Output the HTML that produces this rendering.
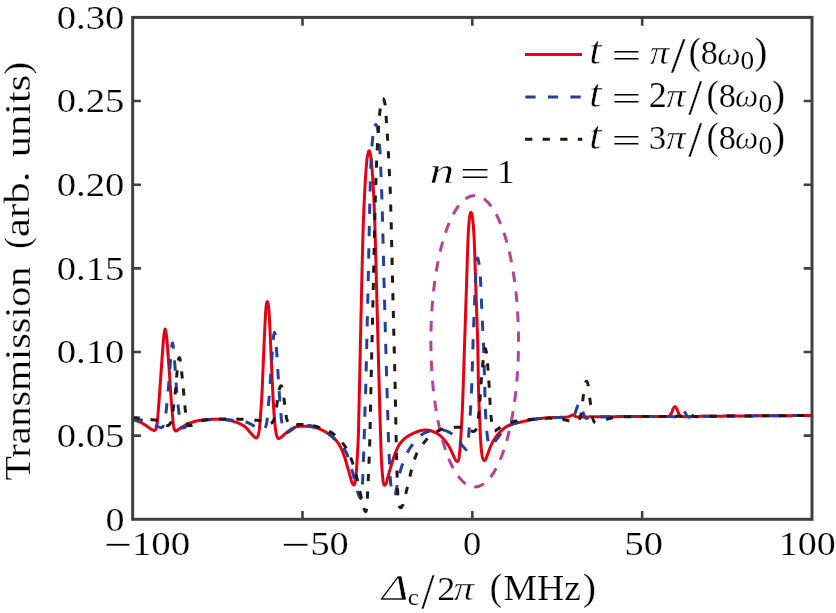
<!DOCTYPE html>
<html><head><meta charset="utf-8"><title>Transmission spectrum</title>
<style>html,body{margin:0;padding:0;background:#fff}svg{display:block}</style></head>
<body>
<svg width="836" height="613" viewBox="0 0 836 613">
<rect width="836" height="613" fill="#fff"/>
<clipPath id="ax"><rect x="132.65" y="17.4" width="679.35" height="501.9"/></clipPath>
<g clip-path="url(#ax)" fill="none" stroke-width="3.0" stroke-linejoin="round">
<path d="M132.60,419.80 L133.27,419.95 L133.94,420.10 L134.61,420.24 L135.29,420.41 L136.00,420.60 L136.72,420.81 L137.46,421.02 L138.21,421.25 L138.99,421.52 L139.78,421.83 L140.60,422.20 L141.29,422.56 L142.03,422.99 L142.79,423.46 L143.57,423.97 L144.35,424.50 L145.14,425.04 L145.90,425.57 L146.64,426.08 L147.35,426.57 L148.00,427.00 L148.75,427.50 L149.45,427.99 L150.12,428.46 L150.77,428.89 L151.39,429.28 L152.00,429.60 L152.67,429.93 L153.33,430.23 L153.95,430.41 L154.50,430.40 L154.94,430.18 L155.34,429.81 L155.69,429.33 L156.00,428.80 L156.26,428.19 L156.46,427.51 L156.61,426.76 L156.75,425.92 L156.90,425.00 L157.01,424.30 L157.11,423.54 L157.21,422.72 L157.31,421.86 L157.40,420.96 L157.49,420.03 L157.57,419.07 L157.66,418.09 L157.74,417.10 L157.83,416.10 L157.91,415.10 L158.00,414.10 L158.07,413.25 L158.15,412.40 L158.22,411.52 L158.29,410.64 L158.36,409.75 L158.43,408.84 L158.50,407.93 L158.57,407.00 L158.64,406.07 L158.71,405.13 L158.78,404.19 L158.85,403.23 L158.92,402.27 L158.99,401.31 L159.06,400.34 L159.13,399.37 L159.20,398.40 L159.27,397.51 L159.33,396.62 L159.40,395.71 L159.46,394.80 L159.53,393.88 L159.60,392.96 L159.66,392.03 L159.73,391.09 L159.80,390.15 L159.86,389.21 L159.93,388.26 L160.00,387.31 L160.06,386.36 L160.13,385.41 L160.20,384.46 L160.27,383.51 L160.33,382.57 L160.40,381.62 L160.47,380.68 L160.53,379.74 L160.60,378.80 L160.67,377.87 L160.73,376.93 L160.80,376.00 L160.87,375.07 L160.93,374.13 L161.00,373.20 L161.06,372.27 L161.13,371.33 L161.19,370.40 L161.26,369.47 L161.33,368.53 L161.39,367.60 L161.46,366.67 L161.53,365.73 L161.59,364.80 L161.66,363.87 L161.73,362.93 L161.79,362.00 L161.86,361.07 L161.93,360.13 L162.00,359.20 L162.07,358.26 L162.14,357.30 L162.21,356.32 L162.28,355.33 L162.35,354.34 L162.42,353.33 L162.50,352.33 L162.57,351.32 L162.64,350.32 L162.71,349.32 L162.78,348.34 L162.86,347.36 L162.93,346.40 L163.00,345.46 L163.07,344.53 L163.15,343.64 L163.22,342.76 L163.29,341.92 L163.36,341.11 L163.43,340.34 L163.50,339.60 L163.60,338.58 L163.69,337.60 L163.79,336.66 L163.88,335.77 L163.97,334.92 L164.07,334.12 L164.17,333.37 L164.28,332.66 L164.40,332.00 L164.58,331.07 L164.77,330.16 L164.96,329.47 L165.15,329.20 L165.34,329.47 L165.53,330.16 L165.72,331.07 L165.90,332.00 L166.02,332.66 L166.14,333.37 L166.26,334.12 L166.37,334.92 L166.47,335.77 L166.58,336.66 L166.69,337.60 L166.79,338.58 L166.90,339.60 L166.97,340.34 L167.05,341.11 L167.12,341.92 L167.19,342.76 L167.27,343.63 L167.34,344.53 L167.41,345.46 L167.49,346.40 L167.56,347.36 L167.63,348.34 L167.70,349.32 L167.77,350.32 L167.84,351.32 L167.91,352.33 L167.98,353.33 L168.05,354.34 L168.12,355.33 L168.19,356.32 L168.26,357.30 L168.33,358.26 L168.40,359.20 L168.47,360.13 L168.54,361.07 L168.61,362.00 L168.67,362.93 L168.74,363.87 L168.81,364.80 L168.88,365.73 L168.95,366.67 L169.01,367.60 L169.08,368.53 L169.15,369.47 L169.21,370.40 L169.28,371.33 L169.34,372.27 L169.41,373.20 L169.48,374.13 L169.54,375.07 L169.61,376.00 L169.67,376.93 L169.74,377.87 L169.80,378.80 L169.86,379.74 L169.93,380.68 L169.99,381.62 L170.05,382.57 L170.11,383.51 L170.17,384.46 L170.23,385.41 L170.30,386.36 L170.36,387.31 L170.42,388.26 L170.48,389.21 L170.54,390.15 L170.60,391.09 L170.66,392.03 L170.72,392.96 L170.78,393.88 L170.84,394.80 L170.91,395.71 L170.97,396.62 L171.03,397.51 L171.10,398.40 L171.17,399.37 L171.25,400.34 L171.32,401.30 L171.40,402.26 L171.47,403.21 L171.55,404.16 L171.62,405.10 L171.70,406.03 L171.78,406.96 L171.85,407.88 L171.93,408.79 L172.01,409.70 L172.09,410.59 L172.16,411.48 L172.24,412.36 L172.32,413.24 L172.40,414.10 L172.49,415.09 L172.57,416.09 L172.66,417.10 L172.74,418.10 L172.83,419.10 L172.91,420.09 L173.00,421.05 L173.09,421.99 L173.18,422.89 L173.27,423.75 L173.38,424.55 L173.48,425.31 L173.60,426.00 L173.77,426.94 L173.93,427.79 L174.11,428.56 L174.32,429.23 L174.60,429.80 L174.87,430.22 L175.17,430.60 L175.51,430.87 L175.90,431.00 L176.43,430.90 L177.03,430.57 L177.70,430.08 L178.42,429.53 L179.20,429.00 L179.78,428.64 L180.41,428.23 L181.06,427.80 L181.75,427.34 L182.46,426.87 L183.20,426.39 L183.96,425.92 L184.73,425.45 L185.51,425.01 L186.30,424.59 L187.10,424.20 L187.86,423.86 L188.64,423.53 L189.43,423.22 L190.24,422.91 L191.07,422.61 L191.90,422.33 L192.75,422.06 L193.60,421.80 L194.46,421.55 L195.32,421.32 L196.18,421.10 L197.04,420.89 L197.90,420.70 L198.80,420.52 L199.73,420.36 L200.69,420.22 L201.68,420.09 L202.67,419.98 L203.65,419.88 L204.63,419.79 L205.58,419.71 L206.49,419.64 L207.36,419.57 L208.18,419.51 L208.93,419.45 L209.60,419.40 L210.37,419.33 L211.00,419.28 L211.58,419.24 L212.21,419.21 L213.00,419.20 L213.63,419.20 L214.33,419.20 L215.10,419.20 L215.92,419.20 L216.80,419.21 L217.70,419.23 L218.64,419.26 L219.60,419.29 L220.57,419.33 L221.54,419.38 L222.50,419.44 L223.45,419.51 L224.37,419.59 L225.26,419.69 L226.10,419.80 L227.03,419.94 L227.95,420.10 L228.86,420.27 L229.77,420.45 L230.67,420.65 L231.55,420.86 L232.43,421.09 L233.29,421.32 L234.14,421.57 L234.98,421.84 L235.80,422.11 L236.60,422.40 L237.45,422.72 L238.30,423.06 L239.13,423.40 L239.94,423.76 L240.74,424.14 L241.52,424.53 L242.28,424.95 L243.01,425.38 L243.72,425.83 L244.40,426.30 L245.05,426.81 L245.67,427.35 L246.26,427.92 L246.82,428.50 L247.37,429.10 L247.90,429.71 L248.43,430.31 L248.96,430.91 L249.50,431.50 L250.09,432.15 L250.68,432.83 L251.27,433.52 L251.85,434.21 L252.42,434.87 L252.97,435.49 L253.50,436.04 L254.00,436.50 L254.60,437.02 L255.16,437.48 L255.70,437.80 L256.20,437.90 L256.62,437.75 L257.01,437.43 L257.38,436.99 L257.70,436.50 L257.96,435.99 L258.17,435.39 L258.34,434.73 L258.50,434.02 L258.65,433.27 L258.80,432.50 L258.94,431.78 L259.06,431.03 L259.18,430.25 L259.30,429.44 L259.40,428.60 L259.51,427.73 L259.61,426.85 L259.70,425.93 L259.80,425.00 L259.88,424.20 L259.95,423.38 L260.02,422.52 L260.09,421.65 L260.15,420.76 L260.21,419.85 L260.27,418.93 L260.33,418.00 L260.39,417.06 L260.45,416.12 L260.51,415.18 L260.57,414.25 L260.63,413.32 L260.70,412.40 L260.76,411.53 L260.83,410.69 L260.89,409.87 L260.96,409.06 L261.03,408.25 L261.09,407.44 L261.16,406.62 L261.23,405.79 L261.29,404.94 L261.36,404.05 L261.43,403.14 L261.50,402.18 L261.56,401.18 L261.63,400.12 L261.70,399.00 L261.74,398.29 L261.78,397.56 L261.82,396.81 L261.86,396.03 L261.91,395.22 L261.95,394.40 L261.99,393.55 L262.03,392.68 L262.07,391.79 L262.12,390.89 L262.16,389.97 L262.20,389.03 L262.24,388.07 L262.29,387.10 L262.33,386.12 L262.37,385.13 L262.41,384.12 L262.46,383.11 L262.50,382.08 L262.54,381.05 L262.59,380.00 L262.63,378.96 L262.67,377.90 L262.71,376.84 L262.76,375.78 L262.80,374.72 L262.84,373.65 L262.89,372.58 L262.93,371.52 L262.97,370.45 L263.01,369.39 L263.06,368.33 L263.10,367.27 L263.14,366.22 L263.18,365.18 L263.23,364.14 L263.27,363.12 L263.31,362.10 L263.35,361.09 L263.39,360.09 L263.44,359.10 L263.48,358.13 L263.52,357.17 L263.56,356.23 L263.60,355.30 L263.64,354.29 L263.69,353.27 L263.73,352.25 L263.78,351.22 L263.82,350.18 L263.87,349.14 L263.92,348.10 L263.96,347.05 L264.01,346.00 L264.05,344.95 L264.10,343.91 L264.14,342.86 L264.19,341.82 L264.23,340.78 L264.28,339.74 L264.32,338.71 L264.37,337.69 L264.41,336.67 L264.46,335.66 L264.50,334.66 L264.54,333.67 L264.59,332.69 L264.63,331.73 L264.67,330.77 L264.72,329.83 L264.76,328.91 L264.80,328.00 L264.84,327.11 L264.89,326.23 L264.93,325.38 L264.97,324.54 L265.01,323.73 L265.05,322.94 L265.09,322.17 L265.12,321.42 L265.16,320.70 L265.20,320.00 L265.26,318.94 L265.31,317.92 L265.36,316.96 L265.41,316.03 L265.46,315.14 L265.51,314.28 L265.56,313.46 L265.61,312.66 L265.66,311.89 L265.72,311.14 L265.77,310.42 L265.84,309.70 L265.90,309.00 L265.99,308.10 L266.07,307.24 L266.16,306.41 L266.25,305.62 L266.35,304.89 L266.47,304.21 L266.60,303.60 L266.77,302.93 L266.96,302.28 L267.16,301.79 L267.35,301.60 L267.54,301.79 L267.74,302.28 L267.93,302.93 L268.10,303.60 L268.23,304.21 L268.35,304.89 L268.45,305.62 L268.54,306.41 L268.63,307.24 L268.71,308.10 L268.80,309.00 L268.86,309.70 L268.93,310.42 L268.98,311.14 L269.04,311.89 L269.09,312.66 L269.14,313.46 L269.19,314.28 L269.24,315.14 L269.29,316.03 L269.34,316.96 L269.39,317.92 L269.44,318.94 L269.50,320.00 L269.54,320.70 L269.58,321.42 L269.61,322.17 L269.65,322.94 L269.69,323.73 L269.73,324.54 L269.77,325.38 L269.81,326.23 L269.85,327.11 L269.90,328.00 L269.94,328.91 L269.98,329.83 L270.02,330.77 L270.06,331.73 L270.11,332.69 L270.15,333.67 L270.19,334.66 L270.24,335.66 L270.28,336.67 L270.33,337.69 L270.37,338.71 L270.42,339.74 L270.46,340.78 L270.51,341.82 L270.55,342.86 L270.60,343.91 L270.64,344.95 L270.69,346.00 L270.73,347.05 L270.78,348.10 L270.82,349.14 L270.87,350.18 L270.92,351.22 L270.96,352.25 L271.01,353.27 L271.05,354.29 L271.10,355.30 L271.14,356.23 L271.18,357.17 L271.23,358.12 L271.27,359.08 L271.31,360.06 L271.36,361.04 L271.40,362.04 L271.44,363.04 L271.49,364.05 L271.53,365.07 L271.58,366.09 L271.62,367.12 L271.67,368.15 L271.71,369.19 L271.76,370.23 L271.80,371.28 L271.85,372.32 L271.89,373.37 L271.94,374.41 L271.98,375.46 L272.03,376.50 L272.07,377.54 L272.12,378.58 L272.16,379.61 L272.21,380.64 L272.25,381.66 L272.30,382.68 L272.35,383.69 L272.39,384.69 L272.44,385.68 L272.48,386.67 L272.53,387.64 L272.57,388.60 L272.62,389.55 L272.66,390.49 L272.71,391.41 L272.75,392.32 L272.80,393.22 L272.84,394.10 L272.88,394.96 L272.93,395.81 L272.97,396.63 L273.01,397.44 L273.06,398.23 L273.10,399.00 L273.16,400.13 L273.23,401.23 L273.29,402.31 L273.35,403.35 L273.42,404.37 L273.48,405.36 L273.54,406.34 L273.60,407.29 L273.66,408.22 L273.72,409.14 L273.79,410.04 L273.85,410.92 L273.91,411.80 L273.97,412.66 L274.04,413.52 L274.10,414.37 L274.17,415.22 L274.23,416.06 L274.30,416.90 L274.38,417.89 L274.46,418.87 L274.53,419.83 L274.61,420.78 L274.69,421.72 L274.76,422.64 L274.84,423.55 L274.92,424.44 L275.01,425.31 L275.10,426.16 L275.19,426.99 L275.29,427.81 L275.40,428.60 L275.52,429.48 L275.65,430.35 L275.78,431.21 L275.92,432.05 L276.06,432.85 L276.21,433.62 L276.36,434.34 L276.53,435.00 L276.70,435.60 L276.95,436.35 L277.20,437.01 L277.48,437.57 L277.80,438.00 L278.02,438.21 L278.25,438.37 L278.51,438.47 L278.80,438.50 L279.30,438.37 L279.88,438.07 L280.51,437.65 L281.17,437.17 L281.80,436.70 L282.33,436.28 L282.85,435.83 L283.38,435.34 L283.91,434.83 L284.46,434.31 L285.02,433.80 L285.60,433.30 L286.19,432.82 L286.80,432.32 L287.42,431.82 L288.06,431.33 L288.71,430.84 L289.37,430.37 L290.03,429.92 L290.70,429.50 L291.36,429.11 L292.02,428.73 L292.70,428.36 L293.38,428.01 L294.07,427.69 L294.77,427.39 L295.48,427.13 L296.20,426.90 L296.95,426.71 L297.72,426.56 L298.50,426.45 L299.29,426.37 L300.08,426.30 L300.89,426.26 L301.69,426.23 L302.50,426.20 L303.34,426.18 L304.19,426.17 L305.05,426.18 L305.91,426.21 L306.77,426.26 L307.64,426.32 L308.52,426.40 L309.40,426.50 L310.25,426.61 L311.12,426.74 L312.00,426.88 L312.88,427.04 L313.76,427.21 L314.64,427.41 L315.51,427.62 L316.36,427.85 L317.20,428.10 L318.00,428.36 L318.79,428.65 L319.56,428.95 L320.33,429.27 L321.09,429.60 L321.85,429.96 L322.60,430.32 L323.35,430.71 L324.10,431.10 L324.80,431.48 L325.50,431.88 L326.20,432.29 L326.90,432.72 L327.60,433.16 L328.28,433.61 L328.96,434.07 L329.62,434.54 L330.27,435.02 L330.90,435.50 L331.56,436.02 L332.20,436.56 L332.83,437.10 L333.45,437.65 L334.06,438.22 L334.65,438.80 L335.22,439.39 L335.77,439.99 L336.30,440.60 L336.80,441.21 L337.27,441.82 L337.72,442.43 L338.16,443.06 L338.58,443.71 L338.99,444.37 L339.40,445.05 L339.80,445.76 L340.20,446.50 L340.56,447.20 L340.92,447.93 L341.28,448.68 L341.62,449.45 L341.97,450.24 L342.30,451.05 L342.64,451.86 L342.96,452.69 L343.28,453.52 L343.59,454.35 L343.90,455.18 L344.20,456.00 L344.50,456.85 L344.79,457.71 L345.08,458.59 L345.35,459.47 L345.62,460.35 L345.89,461.24 L346.15,462.12 L346.40,463.01 L346.65,463.89 L346.90,464.77 L347.15,465.64 L347.40,466.50 L347.65,467.39 L347.90,468.28 L348.14,469.18 L348.38,470.07 L348.62,470.96 L348.85,471.84 L349.09,472.71 L349.31,473.56 L349.54,474.40 L349.77,475.21 L350.00,476.00 L350.26,476.87 L350.51,477.74 L350.76,478.60 L351.01,479.44 L351.26,480.23 L351.51,480.98 L351.76,481.68 L352.00,482.30 L352.30,483.01 L352.58,483.66 L352.88,484.20 L353.20,484.60 L353.42,484.79 L353.66,484.94 L353.89,485.02 L354.10,485.00 L354.37,484.72 L354.61,484.18 L354.82,483.46 L355.01,482.64 L355.20,481.80 L355.34,481.12 L355.46,480.37 L355.58,479.56 L355.69,478.71 L355.78,477.80 L355.88,476.87 L355.96,475.91 L356.05,474.94 L356.13,473.95 L356.22,472.97 L356.30,472.00 L356.37,471.17 L356.44,470.33 L356.51,469.47 L356.57,468.61 L356.63,467.74 L356.69,466.86 L356.75,465.97 L356.81,465.07 L356.86,464.16 L356.92,463.24 L356.97,462.31 L357.03,461.37 L357.09,460.42 L357.14,459.47 L357.20,458.50 L357.25,457.65 L357.30,456.79 L357.36,455.93 L357.41,455.07 L357.46,454.20 L357.51,453.32 L357.57,452.44 L357.62,451.55 L357.67,450.65 L357.72,449.75 L357.78,448.83 L357.83,447.90 L357.88,446.96 L357.93,446.01 L357.98,445.05 L358.02,444.07 L358.07,443.08 L358.11,442.07 L358.16,441.04 L358.20,440.00 L358.23,439.19 L358.26,438.37 L358.29,437.56 L358.32,436.74 L358.35,435.92 L358.37,435.10 L358.40,434.27 L358.42,433.43 L358.45,432.60 L358.47,431.75 L358.49,430.90 L358.51,430.04 L358.53,429.18 L358.56,428.30 L358.58,427.42 L358.60,426.52 L358.62,425.62 L358.64,424.70 L358.66,423.77 L358.68,422.83 L358.70,421.88 L358.72,420.91 L358.74,419.93 L358.76,418.93 L358.78,417.92 L358.80,416.89 L358.83,415.85 L358.85,414.79 L358.87,413.70 L358.90,412.60 L358.92,411.48 L358.95,410.34 L358.97,409.18 L359.00,408.00 L359.02,407.28 L359.03,406.54 L359.05,405.80 L359.07,405.04 L359.09,404.27 L359.10,403.50 L359.12,402.71 L359.14,401.91 L359.16,401.10 L359.18,400.29 L359.20,399.46 L359.21,398.62 L359.23,397.77 L359.25,396.92 L359.27,396.06 L359.29,395.18 L359.31,394.30 L359.33,393.41 L359.35,392.51 L359.37,391.61 L359.39,390.70 L359.41,389.77 L359.43,388.85 L359.45,387.91 L359.47,386.97 L359.49,386.02 L359.51,385.06 L359.53,384.10 L359.55,383.13 L359.57,382.16 L359.60,381.18 L359.62,380.19 L359.64,379.20 L359.66,378.20 L359.68,377.20 L359.70,376.19 L359.72,375.18 L359.75,374.17 L359.77,373.15 L359.79,372.12 L359.81,371.09 L359.83,370.06 L359.86,369.02 L359.88,367.98 L359.90,366.94 L359.92,365.90 L359.94,364.85 L359.97,363.80 L359.99,362.74 L360.01,361.69 L360.03,360.63 L360.06,359.57 L360.08,358.51 L360.10,357.44 L360.13,356.38 L360.15,355.31 L360.17,354.25 L360.19,353.18 L360.22,352.11 L360.24,351.04 L360.26,349.97 L360.29,348.91 L360.31,347.84 L360.33,346.77 L360.35,345.70 L360.38,344.63 L360.40,343.57 L360.42,342.50 L360.45,341.44 L360.47,340.38 L360.49,339.32 L360.51,338.26 L360.54,337.20 L360.56,336.15 L360.58,335.10 L360.61,334.05 L360.63,333.00 L360.65,331.96 L360.67,330.92 L360.70,329.88 L360.72,328.84 L360.74,327.81 L360.77,326.79 L360.79,325.77 L360.81,324.75 L360.83,323.74 L360.86,322.73 L360.88,321.73 L360.90,320.73 L360.92,319.73 L360.95,318.75 L360.97,317.76 L360.99,316.79 L361.01,315.82 L361.03,314.85 L361.06,313.90 L361.08,312.94 L361.10,312.00 L361.12,310.98 L361.15,309.96 L361.17,308.94 L361.19,307.91 L361.22,306.88 L361.24,305.85 L361.26,304.81 L361.29,303.77 L361.31,302.73 L361.34,301.69 L361.36,300.64 L361.38,299.59 L361.41,298.54 L361.43,297.49 L361.45,296.44 L361.48,295.38 L361.50,294.33 L361.53,293.27 L361.55,292.22 L361.57,291.16 L361.60,290.10 L361.62,289.04 L361.64,287.98 L361.67,286.92 L361.69,285.86 L361.72,284.81 L361.74,283.75 L361.76,282.69 L361.79,281.64 L361.81,280.58 L361.83,279.53 L361.86,278.48 L361.88,277.43 L361.91,276.38 L361.93,275.33 L361.95,274.29 L361.98,273.24 L362.00,272.20 L362.03,271.17 L362.05,270.13 L362.07,269.10 L362.10,268.07 L362.12,267.05 L362.15,266.03 L362.17,265.01 L362.19,263.99 L362.22,262.98 L362.24,261.98 L362.27,260.98 L362.29,259.98 L362.31,258.99 L362.34,258.00 L362.36,257.02 L362.38,256.04 L362.41,255.07 L362.43,254.10 L362.46,253.14 L362.48,252.19 L362.50,251.24 L362.53,250.30 L362.55,249.36 L362.58,248.43 L362.60,247.51 L362.62,246.59 L362.65,245.68 L362.67,244.78 L362.70,243.89 L362.72,243.00 L362.74,242.12 L362.77,241.25 L362.79,240.39 L362.81,239.54 L362.84,238.69 L362.86,237.86 L362.89,237.03 L362.91,236.21 L362.93,235.40 L362.96,234.60 L362.98,233.81 L363.01,233.03 L363.03,232.25 L363.05,231.49 L363.08,230.74 L363.10,230.00 L363.14,228.85 L363.17,227.72 L363.21,226.61 L363.25,225.54 L363.28,224.48 L363.32,223.45 L363.35,222.43 L363.39,221.44 L363.42,220.46 L363.46,219.50 L363.50,218.55 L363.53,217.62 L363.57,216.70 L363.60,215.80 L363.64,214.90 L363.67,214.01 L363.71,213.13 L363.74,212.26 L363.78,211.39 L363.82,210.52 L363.85,209.66 L363.89,208.80 L363.93,207.94 L363.97,207.08 L364.01,206.22 L364.05,205.35 L364.09,204.48 L364.13,203.60 L364.17,202.71 L364.21,201.82 L364.26,200.92 L364.30,200.00 L364.35,199.05 L364.39,198.09 L364.44,197.12 L364.49,196.15 L364.54,195.18 L364.58,194.21 L364.63,193.23 L364.68,192.25 L364.73,191.27 L364.78,190.29 L364.83,189.31 L364.89,188.33 L364.94,187.36 L364.99,186.39 L365.04,185.42 L365.10,184.46 L365.15,183.51 L365.21,182.56 L365.26,181.62 L365.32,180.69 L365.37,179.76 L365.43,178.85 L365.49,177.95 L365.54,177.06 L365.60,176.18 L365.66,175.31 L365.72,174.46 L365.78,173.63 L365.84,172.80 L365.90,172.00 L365.98,170.96 L366.05,169.92 L366.13,168.89 L366.20,167.87 L366.27,166.87 L366.35,165.88 L366.42,164.90 L366.50,163.95 L366.58,163.01 L366.66,162.10 L366.75,161.21 L366.84,160.35 L366.94,159.52 L367.04,158.71 L367.15,157.94 L367.27,157.20 L367.40,156.50 L367.61,155.43 L367.84,154.32 L368.09,153.25 L368.34,152.29 L368.60,151.51 L368.85,150.99 L369.10,150.80 L369.35,150.99 L369.60,151.51 L369.86,152.29 L370.11,153.25 L370.36,154.32 L370.59,155.43 L370.80,156.50 L370.93,157.20 L371.05,157.94 L371.16,158.71 L371.26,159.52 L371.36,160.35 L371.45,161.21 L371.54,162.10 L371.62,163.01 L371.70,163.95 L371.78,164.90 L371.85,165.88 L371.93,166.87 L372.00,167.87 L372.07,168.89 L372.15,169.92 L372.22,170.96 L372.30,172.00 L372.36,172.80 L372.42,173.63 L372.48,174.46 L372.54,175.31 L372.60,176.18 L372.66,177.06 L372.72,177.95 L372.77,178.85 L372.83,179.76 L372.89,180.69 L372.94,181.62 L373.00,182.56 L373.05,183.51 L373.11,184.46 L373.16,185.42 L373.22,186.39 L373.27,187.36 L373.32,188.33 L373.37,189.31 L373.42,190.29 L373.47,191.27 L373.52,192.25 L373.57,193.23 L373.62,194.21 L373.67,195.18 L373.72,196.15 L373.76,197.12 L373.81,198.09 L373.86,199.05 L373.90,200.00 L373.94,200.92 L373.98,201.82 L374.02,202.71 L374.06,203.60 L374.10,204.48 L374.14,205.35 L374.18,206.22 L374.21,207.08 L374.25,207.94 L374.28,208.80 L374.31,209.66 L374.35,210.52 L374.38,211.39 L374.41,212.26 L374.44,213.13 L374.47,214.01 L374.51,214.90 L374.54,215.80 L374.57,216.70 L374.60,217.62 L374.63,218.55 L374.66,219.50 L374.69,220.46 L374.73,221.44 L374.76,222.43 L374.79,223.45 L374.82,224.48 L374.86,225.54 L374.89,226.61 L374.93,227.72 L374.96,228.85 L375.00,230.00 L375.02,230.74 L375.05,231.49 L375.07,232.26 L375.09,233.03 L375.12,233.82 L375.14,234.61 L375.17,235.42 L375.19,236.23 L375.22,237.06 L375.24,237.89 L375.26,238.74 L375.29,239.59 L375.31,240.45 L375.34,241.32 L375.36,242.20 L375.39,243.09 L375.41,243.99 L375.44,244.89 L375.47,245.80 L375.49,246.72 L375.52,247.65 L375.54,248.58 L375.57,249.52 L375.59,250.47 L375.62,251.42 L375.65,252.38 L375.67,253.35 L375.70,254.32 L375.72,255.30 L375.75,256.28 L375.78,257.27 L375.80,258.27 L375.83,259.27 L375.86,260.27 L375.88,261.28 L375.91,262.29 L375.94,263.31 L375.96,264.33 L375.99,265.35 L376.02,266.38 L376.04,267.41 L376.07,268.44 L376.10,269.48 L376.12,270.52 L376.15,271.56 L376.18,272.61 L376.21,273.65 L376.23,274.70 L376.26,275.75 L376.29,276.80 L376.31,277.86 L376.34,278.91 L376.37,279.97 L376.40,281.02 L376.42,282.08 L376.45,283.13 L376.48,284.19 L376.50,285.25 L376.53,286.30 L376.56,287.36 L376.59,288.41 L376.61,289.47 L376.64,290.52 L376.67,291.57 L376.69,292.62 L376.72,293.67 L376.75,294.71 L376.77,295.76 L376.80,296.80 L376.83,297.84 L376.86,298.87 L376.88,299.91 L376.91,300.94 L376.94,301.96 L376.96,302.99 L376.99,304.01 L377.02,305.02 L377.04,306.03 L377.07,307.04 L377.10,308.04 L377.12,309.04 L377.15,310.03 L377.17,311.02 L377.20,312.00 L377.23,312.98 L377.25,313.96 L377.28,314.94 L377.30,315.93 L377.33,316.93 L377.36,317.93 L377.38,318.93 L377.41,319.94 L377.44,320.95 L377.46,321.96 L377.49,322.98 L377.52,324.00 L377.55,325.02 L377.57,326.05 L377.60,327.08 L377.63,328.11 L377.65,329.14 L377.68,330.18 L377.71,331.22 L377.74,332.26 L377.76,333.30 L377.79,334.34 L377.82,335.38 L377.84,336.43 L377.87,337.47 L377.90,338.52 L377.93,339.57 L377.95,340.61 L377.98,341.66 L378.01,342.71 L378.04,343.75 L378.06,344.80 L378.09,345.85 L378.12,346.89 L378.15,347.93 L378.17,348.98 L378.20,350.02 L378.23,351.06 L378.26,352.10 L378.28,353.13 L378.31,354.17 L378.34,355.20 L378.36,356.23 L378.39,357.26 L378.42,358.28 L378.44,359.31 L378.47,360.32 L378.50,361.34 L378.52,362.35 L378.55,363.36 L378.58,364.37 L378.60,365.37 L378.63,366.36 L378.66,367.36 L378.68,368.34 L378.71,369.33 L378.73,370.31 L378.76,371.28 L378.79,372.25 L378.81,373.21 L378.84,374.17 L378.86,375.12 L378.89,376.06 L378.91,377.00 L378.94,377.93 L378.96,378.86 L378.99,379.78 L379.01,380.69 L379.03,381.60 L379.06,382.50 L379.08,383.39 L379.11,384.27 L379.13,385.15 L379.15,386.02 L379.18,386.88 L379.20,387.73 L379.22,388.58 L379.25,389.41 L379.27,390.24 L379.29,391.05 L379.31,391.86 L379.34,392.66 L379.36,393.45 L379.38,394.23 L379.40,395.00 L379.43,396.15 L379.46,397.28 L379.49,398.39 L379.52,399.48 L379.55,400.55 L379.58,401.60 L379.61,402.64 L379.64,403.66 L379.67,404.66 L379.70,405.65 L379.72,406.63 L379.75,407.59 L379.78,408.55 L379.80,409.49 L379.83,410.42 L379.85,411.35 L379.88,412.26 L379.91,413.17 L379.93,414.07 L379.96,414.97 L379.98,415.87 L380.01,416.76 L380.04,417.64 L380.06,418.53 L380.09,419.42 L380.12,420.30 L380.14,421.19 L380.17,422.08 L380.20,422.98 L380.22,423.87 L380.25,424.78 L380.28,425.69 L380.31,426.60 L380.34,427.53 L380.37,428.46 L380.40,429.40 L380.43,430.36 L380.46,431.33 L380.49,432.31 L380.52,433.29 L380.55,434.28 L380.58,435.28 L380.62,436.28 L380.65,437.28 L380.68,438.29 L380.71,439.30 L380.74,440.31 L380.77,441.31 L380.80,442.32 L380.83,443.33 L380.86,444.33 L380.90,445.33 L380.93,446.33 L380.96,447.32 L380.99,448.31 L381.03,449.29 L381.06,450.26 L381.10,451.22 L381.13,452.17 L381.17,453.12 L381.20,454.05 L381.24,454.97 L381.28,455.88 L381.31,456.78 L381.35,457.66 L381.39,458.52 L381.43,459.38 L381.47,460.21 L381.51,461.02 L381.56,461.82 L381.60,462.60 L381.66,463.67 L381.72,464.72 L381.79,465.76 L381.85,466.78 L381.92,467.78 L381.98,468.76 L382.05,469.72 L382.12,470.65 L382.19,471.57 L382.26,472.46 L382.33,473.33 L382.40,474.18 L382.48,474.99 L382.56,475.79 L382.63,476.55 L382.72,477.29 L382.80,478.00 L382.91,478.92 L383.01,479.81 L383.10,480.67 L383.21,481.48 L383.32,482.23 L383.45,482.91 L383.61,483.50 L383.80,484.00 L384.02,484.45 L384.27,484.84 L384.54,485.11 L384.80,485.20 L385.17,484.96 L385.55,484.39 L385.94,483.62 L386.30,482.80 L386.54,482.18 L386.77,481.48 L386.99,480.72 L387.20,479.91 L387.41,479.06 L387.62,478.18 L387.83,477.29 L388.06,476.39 L388.30,475.50 L388.52,474.70 L388.76,473.89 L388.99,473.05 L389.23,472.21 L389.48,471.35 L389.73,470.48 L389.98,469.60 L390.24,468.72 L390.50,467.84 L390.77,466.95 L391.03,466.07 L391.30,465.20 L391.56,464.36 L391.82,463.51 L392.08,462.66 L392.34,461.80 L392.60,460.94 L392.87,460.08 L393.14,459.23 L393.42,458.37 L393.70,457.52 L393.99,456.67 L394.28,455.84 L394.59,455.01 L394.90,454.20 L395.23,453.37 L395.55,452.53 L395.88,451.70 L396.22,450.87 L396.56,450.05 L396.91,449.24 L397.27,448.44 L397.64,447.65 L398.03,446.88 L398.43,446.13 L398.86,445.40 L399.30,444.70 L399.81,443.95 L400.34,443.21 L400.89,442.50 L401.46,441.81 L402.04,441.14 L402.64,440.49 L403.26,439.86 L403.89,439.25 L404.54,438.66 L405.20,438.10 L405.87,437.57 L406.56,437.07 L407.27,436.58 L407.99,436.12 L408.73,435.68 L409.48,435.26 L410.23,434.85 L410.99,434.46 L411.75,434.07 L412.50,433.70 L413.24,433.35 L413.98,433.00 L414.73,432.66 L415.49,432.34 L416.25,432.03 L417.01,431.74 L417.77,431.47 L418.52,431.22 L419.27,431.00 L420.00,430.80 L420.81,430.61 L421.60,430.43 L422.40,430.29 L423.19,430.17 L423.97,430.08 L424.75,430.02 L425.53,429.99 L426.30,430.00 L427.05,430.05 L427.80,430.13 L428.54,430.24 L429.28,430.38 L430.02,430.55 L430.75,430.75 L431.48,430.96 L432.20,431.20 L432.95,431.47 L433.71,431.76 L434.46,432.08 L435.20,432.43 L435.94,432.80 L436.67,433.20 L437.39,433.64 L438.10,434.10 L438.79,434.59 L439.48,435.12 L440.15,435.68 L440.83,436.27 L441.49,436.89 L442.14,437.52 L442.78,438.17 L443.40,438.83 L444.00,439.50 L444.54,440.12 L445.07,440.76 L445.59,441.42 L446.09,442.08 L446.59,442.76 L447.07,443.45 L447.55,444.15 L448.01,444.86 L448.46,445.58 L448.90,446.30 L449.34,447.06 L449.77,447.85 L450.19,448.65 L450.59,449.47 L450.98,450.30 L451.37,451.12 L451.74,451.92 L452.10,452.71 L452.46,453.47 L452.80,454.20 L453.18,455.01 L453.55,455.82 L453.90,456.61 L454.24,457.37 L454.57,458.08 L454.89,458.73 L455.20,459.30 L455.51,459.83 L455.80,460.30 L456.09,460.69 L456.40,461.00 L456.64,461.18 L456.90,461.33 L457.15,461.41 L457.40,461.40 L457.72,461.21 L458.04,460.85 L458.34,460.36 L458.60,459.80 L458.80,459.20 L458.97,458.49 L459.10,457.69 L459.22,456.81 L459.31,455.89 L459.41,454.93 L459.50,453.96 L459.60,453.00 L459.68,452.24 L459.76,451.47 L459.84,450.67 L459.91,449.86 L459.98,449.02 L460.05,448.18 L460.11,447.32 L460.18,446.45 L460.24,445.57 L460.31,444.68 L460.37,443.79 L460.44,442.90 L460.50,442.00 L460.56,441.18 L460.62,440.35 L460.68,439.52 L460.73,438.68 L460.79,437.83 L460.85,436.98 L460.91,436.13 L460.96,435.26 L461.02,434.39 L461.07,433.51 L461.13,432.62 L461.18,431.72 L461.24,430.80 L461.29,429.88 L461.35,428.95 L461.40,428.00 L461.45,427.18 L461.49,426.36 L461.54,425.55 L461.58,424.74 L461.63,423.93 L461.67,423.11 L461.72,422.30 L461.76,421.47 L461.81,420.64 L461.85,419.80 L461.90,418.94 L461.94,418.07 L461.98,417.18 L462.03,416.27 L462.07,415.33 L462.12,414.38 L462.16,413.39 L462.21,412.38 L462.26,411.34 L462.30,410.26 L462.35,409.15 L462.40,408.00 L462.43,407.30 L462.46,406.58 L462.49,405.84 L462.52,405.09 L462.55,404.32 L462.58,403.54 L462.61,402.74 L462.64,401.92 L462.67,401.09 L462.70,400.25 L462.73,399.39 L462.77,398.52 L462.80,397.63 L462.83,396.74 L462.86,395.83 L462.90,394.91 L462.93,393.98 L462.96,393.04 L462.99,392.09 L463.03,391.13 L463.06,390.15 L463.09,389.18 L463.13,388.19 L463.16,387.19 L463.20,386.19 L463.23,385.18 L463.26,384.16 L463.30,383.14 L463.33,382.11 L463.37,381.07 L463.40,380.03 L463.43,378.99 L463.47,377.94 L463.50,376.89 L463.54,375.83 L463.57,374.77 L463.61,373.71 L463.64,372.65 L463.67,371.59 L463.71,370.52 L463.74,369.46 L463.78,368.39 L463.81,367.33 L463.85,366.26 L463.88,365.20 L463.91,364.14 L463.95,363.08 L463.98,362.02 L464.02,360.97 L464.05,359.92 L464.08,358.87 L464.12,357.83 L464.15,356.79 L464.18,355.76 L464.22,354.73 L464.25,353.71 L464.28,352.70 L464.31,351.69 L464.35,350.69 L464.38,349.70 L464.41,348.71 L464.44,347.73 L464.48,346.77 L464.51,345.81 L464.54,344.86 L464.57,343.93 L464.60,343.00 L464.63,341.99 L464.67,340.98 L464.70,339.98 L464.73,338.97 L464.77,337.97 L464.80,336.98 L464.83,335.98 L464.87,334.99 L464.90,334.00 L464.93,333.01 L464.97,332.03 L465.00,331.05 L465.03,330.07 L465.06,329.09 L465.09,328.11 L465.13,327.14 L465.16,326.17 L465.19,325.20 L465.22,324.23 L465.26,323.26 L465.29,322.30 L465.32,321.34 L465.35,320.38 L465.38,319.42 L465.41,318.46 L465.45,317.50 L465.48,316.54 L465.51,315.59 L465.54,314.63 L465.57,313.68 L465.60,312.73 L465.63,311.78 L465.66,310.83 L465.70,309.88 L465.73,308.93 L465.76,307.98 L465.79,307.04 L465.82,306.09 L465.85,305.14 L465.88,304.20 L465.91,303.25 L465.94,302.31 L465.98,301.36 L466.01,300.41 L466.04,299.47 L466.07,298.52 L466.10,297.58 L466.13,296.63 L466.16,295.69 L466.19,294.74 L466.22,293.79 L466.26,292.85 L466.29,291.90 L466.32,290.95 L466.35,290.00 L466.38,289.02 L466.41,288.03 L466.45,287.02 L466.48,286.01 L466.51,284.99 L466.55,283.96 L466.58,282.93 L466.61,281.88 L466.65,280.84 L466.68,279.78 L466.71,278.72 L466.75,277.66 L466.78,276.59 L466.81,275.53 L466.85,274.46 L466.88,273.39 L466.91,272.31 L466.95,271.24 L466.98,270.17 L467.01,269.10 L467.05,268.04 L467.08,266.98 L467.11,265.92 L467.15,264.86 L467.18,263.81 L467.21,262.77 L467.25,261.73 L467.28,260.70 L467.31,259.68 L467.34,258.67 L467.38,257.66 L467.41,256.67 L467.44,255.69 L467.47,254.72 L467.50,253.76 L467.54,252.81 L467.57,251.88 L467.60,250.96 L467.63,250.06 L467.66,249.17 L467.69,248.30 L467.72,247.45 L467.75,246.61 L467.78,245.79 L467.81,244.99 L467.84,244.21 L467.86,243.46 L467.89,242.72 L467.92,242.01 L467.95,241.31 L467.97,240.64 L468.00,240.00 L468.05,238.88 L468.09,237.84 L468.13,236.85 L468.17,235.91 L468.21,235.02 L468.25,234.17 L468.29,233.36 L468.33,232.57 L468.37,231.80 L468.41,231.04 L468.46,230.29 L468.50,229.53 L468.55,228.77 L468.60,228.00 L468.66,227.08 L468.72,226.17 L468.79,225.28 L468.85,224.39 L468.92,223.53 L468.99,222.68 L469.06,221.85 L469.13,221.04 L469.21,220.26 L469.30,219.50 L469.40,218.67 L469.49,217.85 L469.59,217.05 L469.70,216.28 L469.81,215.56 L469.95,214.90 L470.10,214.30 L470.30,213.63 L470.53,212.98 L470.77,212.49 L471.00,212.30 L471.23,212.49 L471.47,212.98 L471.70,213.63 L471.90,214.30 L472.05,214.90 L472.19,215.56 L472.30,216.28 L472.41,217.05 L472.50,217.85 L472.60,218.67 L472.70,219.50 L472.79,220.26 L472.88,221.04 L472.96,221.85 L473.05,222.68 L473.13,223.53 L473.21,224.39 L473.28,225.28 L473.36,226.17 L473.43,227.08 L473.50,228.00 L473.56,228.77 L473.61,229.53 L473.67,230.29 L473.72,231.04 L473.77,231.80 L473.81,232.57 L473.86,233.36 L473.91,234.17 L473.95,235.02 L474.00,235.91 L474.05,236.85 L474.10,237.84 L474.15,238.88 L474.20,240.00 L474.23,240.64 L474.26,241.31 L474.29,242.01 L474.32,242.72 L474.35,243.46 L474.38,244.21 L474.41,244.99 L474.44,245.79 L474.47,246.61 L474.50,247.45 L474.53,248.30 L474.57,249.17 L474.60,250.06 L474.63,250.96 L474.66,251.88 L474.69,252.81 L474.73,253.76 L474.76,254.72 L474.79,255.69 L474.83,256.67 L474.86,257.66 L474.89,258.67 L474.92,259.68 L474.96,260.70 L474.99,261.73 L475.02,262.77 L475.06,263.81 L475.09,264.86 L475.12,265.92 L475.16,266.98 L475.19,268.04 L475.23,269.10 L475.26,270.17 L475.29,271.24 L475.33,272.31 L475.36,273.39 L475.40,274.46 L475.43,275.53 L475.46,276.59 L475.50,277.66 L475.53,278.72 L475.56,279.78 L475.60,280.84 L475.63,281.88 L475.67,282.93 L475.70,283.96 L475.73,284.99 L475.77,286.01 L475.80,287.02 L475.83,288.03 L475.87,289.02 L475.90,290.00 L475.93,290.95 L475.97,291.90 L476.00,292.86 L476.03,293.81 L476.07,294.77 L476.10,295.73 L476.13,296.69 L476.17,297.65 L476.20,298.61 L476.24,299.57 L476.27,300.53 L476.31,301.50 L476.34,302.46 L476.38,303.43 L476.41,304.40 L476.45,305.37 L476.48,306.34 L476.52,307.31 L476.55,308.28 L476.59,309.25 L476.62,310.22 L476.66,311.19 L476.69,312.16 L476.73,313.13 L476.76,314.10 L476.80,315.07 L476.83,316.05 L476.87,317.02 L476.90,317.99 L476.94,318.96 L476.97,319.93 L477.01,320.90 L477.04,321.87 L477.07,322.84 L477.11,323.81 L477.14,324.78 L477.17,325.75 L477.21,326.72 L477.24,327.69 L477.27,328.65 L477.30,329.62 L477.33,330.58 L477.37,331.55 L477.40,332.51 L477.43,333.47 L477.46,334.43 L477.48,335.39 L477.51,336.34 L477.54,337.30 L477.57,338.25 L477.60,339.21 L477.62,340.16 L477.65,341.11 L477.67,342.05 L477.70,343.00 L477.73,343.98 L477.75,344.97 L477.77,345.96 L477.80,346.95 L477.82,347.95 L477.84,348.95 L477.86,349.96 L477.88,350.96 L477.90,351.97 L477.92,352.98 L477.94,353.99 L477.96,355.01 L477.97,356.02 L477.99,357.04 L478.01,358.05 L478.02,359.07 L478.04,360.08 L478.05,361.09 L478.07,362.11 L478.08,363.12 L478.10,364.13 L478.11,365.14 L478.13,366.14 L478.14,367.14 L478.16,368.14 L478.17,369.14 L478.19,370.13 L478.20,371.12 L478.21,372.10 L478.23,373.08 L478.24,374.06 L478.26,375.03 L478.27,375.99 L478.29,376.95 L478.30,377.90 L478.32,378.84 L478.33,379.78 L478.35,380.71 L478.37,381.64 L478.38,382.55 L478.40,383.46 L478.42,384.36 L478.43,385.24 L478.45,386.12 L478.47,387.00 L478.49,387.86 L478.51,388.71 L478.53,389.55 L478.55,390.38 L478.58,391.19 L478.60,392.00 L478.63,393.07 L478.66,394.12 L478.70,395.15 L478.73,396.17 L478.77,397.16 L478.80,398.14 L478.84,399.11 L478.87,400.07 L478.91,401.01 L478.95,401.94 L478.98,402.86 L479.02,403.76 L479.06,404.67 L479.10,405.56 L479.13,406.45 L479.17,407.33 L479.21,408.21 L479.25,409.09 L479.29,409.96 L479.33,410.83 L479.37,411.70 L479.41,412.58 L479.45,413.45 L479.48,414.33 L479.52,415.22 L479.56,416.11 L479.60,417.00 L479.64,417.95 L479.68,418.91 L479.72,419.87 L479.76,420.83 L479.80,421.80 L479.83,422.76 L479.87,423.72 L479.91,424.68 L479.95,425.64 L479.99,426.59 L480.02,427.54 L480.06,428.49 L480.10,429.43 L480.14,430.36 L480.18,431.29 L480.22,432.21 L480.27,433.12 L480.31,434.02 L480.35,434.92 L480.40,435.80 L480.45,436.67 L480.50,437.53 L480.55,438.37 L480.60,439.20 L480.66,440.19 L480.73,441.18 L480.79,442.17 L480.85,443.16 L480.92,444.13 L480.99,445.09 L481.05,446.04 L481.12,446.97 L481.20,447.88 L481.27,448.77 L481.35,449.64 L481.43,450.48 L481.52,451.28 L481.61,452.06 L481.70,452.80 L481.80,453.50 L481.94,454.46 L482.08,455.38 L482.22,456.24 L482.37,457.05 L482.55,457.78 L482.75,458.43 L483.00,459.00 L483.31,459.54 L483.67,460.02 L484.04,460.37 L484.40,460.50 L484.76,460.36 L485.12,459.99 L485.47,459.51 L485.80,459.00 L486.11,458.44 L486.37,457.81 L486.62,457.11 L486.89,456.34 L487.20,455.50 L487.45,454.85 L487.71,454.13 L487.99,453.36 L488.28,452.54 L488.58,451.68 L488.90,450.80 L489.22,449.91 L489.55,449.02 L489.88,448.14 L490.22,447.29 L490.56,446.47 L490.90,445.70 L491.26,444.92 L491.62,444.16 L491.99,443.42 L492.36,442.69 L492.73,441.97 L493.12,441.26 L493.52,440.56 L493.93,439.87 L494.36,439.18 L494.80,438.50 L495.27,437.81 L495.75,437.13 L496.25,436.45 L496.76,435.77 L497.28,435.11 L497.82,434.45 L498.36,433.81 L498.90,433.19 L499.45,432.58 L500.00,432.00 L500.56,431.42 L501.12,430.86 L501.69,430.32 L502.26,429.79 L502.84,429.27 L503.43,428.78 L504.04,428.30 L504.66,427.84 L505.30,427.40 L505.97,426.97 L506.65,426.56 L507.34,426.18 L508.05,425.80 L508.78,425.45 L509.51,425.12 L510.26,424.80 L511.03,424.49 L511.80,424.20 L512.55,423.94 L513.31,423.71 L514.06,423.50 L514.83,423.31 L515.61,423.12 L516.41,422.95 L517.25,422.77 L518.12,422.60 L519.03,422.41 L520.00,422.20 L520.74,422.04 L521.51,421.87 L522.31,421.70 L523.15,421.52 L524.01,421.34 L524.89,421.15 L525.80,420.96 L526.73,420.77 L527.67,420.57 L528.62,420.38 L529.58,420.19 L530.55,420.00 L531.51,419.82 L532.48,419.64 L533.45,419.47 L534.41,419.30 L535.36,419.14 L536.29,418.99 L537.22,418.85 L538.12,418.72 L539.00,418.60 L539.93,418.49 L540.85,418.38 L541.78,418.29 L542.71,418.20 L543.64,418.12 L544.56,418.05 L545.48,417.98 L546.40,417.92 L547.31,417.87 L548.21,417.82 L549.11,417.77 L549.99,417.73 L550.86,417.69 L551.72,417.65 L552.56,417.61 L553.39,417.58 L554.21,417.54 L555.00,417.50 L555.93,417.46 L556.85,417.43 L557.77,417.41 L558.67,417.39 L559.56,417.38 L560.43,417.37 L561.27,417.36 L562.09,417.34 L562.87,417.32 L563.62,417.29 L564.33,417.25 L565.00,417.20 L565.79,417.13 L566.53,417.06 L567.21,416.98 L567.85,416.88 L568.44,416.76 L569.00,416.60 L569.56,416.35 L570.06,416.05 L570.53,415.75 L571.00,415.50 L571.40,415.32 L571.80,415.15 L572.19,415.03 L572.60,415.00 L573.06,415.10 L573.53,415.30 L574.00,415.56 L574.50,415.80 L575.06,416.08 L575.63,416.39 L576.25,416.68 L577.00,416.90 L577.58,417.00 L578.21,417.05 L578.88,417.08 L579.59,417.08 L580.35,417.05 L581.17,417.02 L582.04,416.98 L582.96,416.94 L583.95,416.91 L585.00,416.90 L585.63,416.90 L586.29,416.89 L586.98,416.89 L587.71,416.88 L588.46,416.88 L589.24,416.87 L590.05,416.87 L590.88,416.86 L591.74,416.85 L592.62,416.85 L593.52,416.84 L594.44,416.83 L595.38,416.82 L596.33,416.81 L597.30,416.80 L598.29,416.79 L599.29,416.78 L600.30,416.77 L601.32,416.76 L602.35,416.75 L603.39,416.74 L604.44,416.73 L605.49,416.72 L606.54,416.71 L607.60,416.70 L608.66,416.69 L609.71,416.68 L610.77,416.67 L611.82,416.67 L612.87,416.66 L613.92,416.65 L614.96,416.64 L615.99,416.63 L617.01,416.62 L618.02,416.61 L619.02,416.61 L620.00,416.60 L620.93,416.59 L621.88,416.59 L622.85,416.58 L623.84,416.57 L624.84,416.57 L625.86,416.56 L626.89,416.55 L627.93,416.55 L628.99,416.54 L630.05,416.53 L631.12,416.52 L632.19,416.52 L633.27,416.51 L634.35,416.50 L635.43,416.49 L636.52,416.49 L637.60,416.48 L638.68,416.47 L639.75,416.47 L640.82,416.46 L641.88,416.45 L642.94,416.45 L643.98,416.44 L645.01,416.44 L646.03,416.43 L647.04,416.43 L648.03,416.42 L649.00,416.42 L649.95,416.41 L650.88,416.41 L651.80,416.41 L652.69,416.40 L653.55,416.40 L654.39,416.40 L655.20,416.40 L655.98,416.39 L656.74,416.39 L657.46,416.39 L658.15,416.39 L658.80,416.40 L659.42,416.40 L660.00,416.40 L661.05,416.41 L662.01,416.44 L662.89,416.47 L663.70,416.50 L664.45,416.53 L665.14,416.55 L665.79,416.55 L666.41,416.54 L667.00,416.50 L667.73,416.45 L668.38,416.39 L668.96,416.26 L669.50,416.00 L669.97,415.58 L670.40,415.03 L670.78,414.38 L671.14,413.69 L671.50,413.00 L671.82,412.29 L672.12,411.50 L672.40,410.68 L672.67,409.88 L672.97,409.14 L673.30,408.50 L673.70,407.86 L674.13,407.24 L674.57,406.78 L675.00,406.60 L675.43,406.78 L675.87,407.24 L676.30,407.86 L676.70,408.50 L677.03,409.13 L677.33,409.87 L677.61,410.67 L677.89,411.49 L678.18,412.28 L678.50,413.00 L678.86,413.73 L679.22,414.48 L679.60,415.17 L680.02,415.76 L680.50,416.20 L681.01,416.45 L681.55,416.54 L682.19,416.57 L683.00,416.60 L683.52,416.63 L684.12,416.65 L684.78,416.66 L685.52,416.67 L686.30,416.67 L687.15,416.66 L688.03,416.65 L688.96,416.63 L689.92,416.61 L690.92,416.58 L691.93,416.55 L692.96,416.53 L694.00,416.50 L695.05,416.46 L696.09,416.43 L697.13,416.41 L698.15,416.38 L699.16,416.35 L700.14,416.33 L701.09,416.31 L702.00,416.30 L702.91,416.29 L703.80,416.28 L704.68,416.27 L705.56,416.26 L706.43,416.25 L707.29,416.25 L708.15,416.24 L709.02,416.23 L709.88,416.23 L710.74,416.22 L711.62,416.21 L712.49,416.21 L713.38,416.20 L714.28,416.19 L715.19,416.19 L716.12,416.18 L717.06,416.17 L718.02,416.17 L719.00,416.16 L720.00,416.15 L720.83,416.14 L721.67,416.14 L722.52,416.13 L723.39,416.12 L724.26,416.11 L725.15,416.11 L726.05,416.10 L726.96,416.09 L727.88,416.08 L728.81,416.07 L729.75,416.07 L730.69,416.06 L731.64,416.05 L732.60,416.04 L733.56,416.03 L734.52,416.03 L735.49,416.02 L736.46,416.01 L737.44,416.00 L738.42,415.99 L739.39,415.98 L740.37,415.98 L741.35,415.97 L742.32,415.96 L743.30,415.95 L744.27,415.94 L745.23,415.94 L746.20,415.93 L747.16,415.92 L748.11,415.91 L749.06,415.91 L750.00,415.90 L750.94,415.89 L751.87,415.89 L752.81,415.88 L753.74,415.87 L754.68,415.87 L755.61,415.86 L756.54,415.85 L757.48,415.85 L758.41,415.84 L759.34,415.83 L760.27,415.83 L761.21,415.82 L762.14,415.81 L763.07,415.81 L764.01,415.80 L764.94,415.80 L765.87,415.79 L766.81,415.78 L767.74,415.78 L768.68,415.77 L769.62,415.77 L770.55,415.76 L771.49,415.75 L772.43,415.75 L773.37,415.74 L774.32,415.74 L775.26,415.73 L776.20,415.72 L777.15,415.72 L778.10,415.71 L779.05,415.71 L780.00,415.70 L780.93,415.69 L781.86,415.69 L782.79,415.68 L783.72,415.68 L784.65,415.67 L785.59,415.66 L786.52,415.66 L787.46,415.65 L788.40,415.65 L789.34,415.64 L790.28,415.63 L791.22,415.63 L792.16,415.62 L793.10,415.62 L794.05,415.61 L794.99,415.61 L795.94,415.60 L796.88,415.59 L797.83,415.59 L798.77,415.58 L799.72,415.58 L800.66,415.57 L801.61,415.56 L802.56,415.56 L803.50,415.55 L804.45,415.55 L805.39,415.54 L806.34,415.54 L807.28,415.53 L808.23,415.52 L809.17,415.52 L810.12,415.51 L811.06,415.51 L812.00,415.50" stroke="#e60012"/>
<path d="M132.60,419.30 L133.39,419.36 L134.18,419.41 L134.95,419.45 L135.74,419.50 L136.52,419.55 L137.33,419.62 L138.15,419.70 L139.00,419.80 L139.77,419.90 L140.56,420.00 L141.38,420.11 L142.21,420.23 L142.84,420.33 M155.10,425.10 L155.50,425.30 L156.33,425.71 L157.13,426.12 L157.90,426.51 L158.64,426.85 L159.34,427.12 L160.00,427.30 L160.64,427.41 L161.24,427.47 L161.79,427.42 L162.30,427.20 L162.73,426.80 L163.11,426.22 L163.44,425.51 L163.62,425.05 M165.87,413.49 L165.91,413.21 L166.01,412.40 L166.11,411.57 L166.21,410.72 L166.31,409.86 L166.40,408.98 L166.49,408.09 L166.59,407.20 L166.68,406.29 L166.77,405.39 L166.86,404.48 L166.95,403.57 L166.98,403.25 M168.12,391.50 L168.13,391.38 L168.21,390.51 L168.29,389.62 L168.37,388.73 L168.45,387.83 L168.52,386.92 L168.60,386.00 L168.67,385.15 L168.74,384.28 L168.81,383.40 L168.87,382.50 L168.94,381.59 L168.96,381.23 M169.79,369.45 L169.84,368.84 L169.90,368.00 L169.97,367.07 L170.05,366.14 L170.12,365.23 L170.20,364.32 L170.27,363.42 L170.35,362.53 L170.42,361.65 L170.50,360.79 L170.57,359.93 L170.64,359.19 M171.61,347.42 L171.63,347.32 L171.71,346.63 L171.80,346.00 L171.93,345.20 L172.07,344.39 L172.21,343.69 L172.36,343.19 L172.50,343.00 L172.64,343.19 L172.79,343.69 L172.93,344.39 L173.07,345.20 L173.20,346.00 L173.29,346.63 L173.37,347.32 L173.45,348.06 L173.50,348.64 M174.47,360.41 L174.51,360.79 L174.58,361.65 L174.66,362.53 L174.73,363.42 L174.81,364.32 L174.88,365.23 L174.96,366.14 L175.03,367.07 L175.10,368.00 L175.16,368.84 L175.22,369.69 L175.28,370.56 L175.29,370.68 M176.04,382.46 L176.04,382.50 L176.11,383.40 L176.17,384.28 L176.23,385.15 L176.30,386.00 L176.37,386.92 L176.45,387.83 L176.53,388.73 L176.60,389.62 L176.68,390.51 L176.76,391.38 L176.84,392.25 L176.89,392.73 M178.04,404.48 L178.13,405.37 L178.22,406.27 L178.32,407.17 L178.41,408.07 L178.50,408.95 L178.60,409.83 L178.70,410.69 L178.79,411.54 L178.89,412.38 L179.00,413.20 L179.10,414.00 L179.19,414.72 M181.46,426.27 L181.71,426.86 L182.08,427.44 L182.50,427.80 L183.07,427.92 L183.71,427.82 L184.38,427.58 L185.00,427.30 L185.57,426.95 L186.10,426.49 L186.65,425.99 L187.30,425.50 L187.88,425.13 L188.51,424.75 L189.20,424.34 L189.76,424.03 M201.00,420.64 L201.53,420.56 L202.34,420.44 L203.17,420.34 L204.03,420.23 L204.90,420.13 L205.79,420.04 L206.69,419.95 L207.60,419.86 L208.51,419.79 L209.42,419.72 L210.33,419.65 L211.23,419.59 L211.24,419.59 M223.40,419.49 L223.51,419.49 L224.35,419.53 L225.18,419.56 L226.00,419.60 L226.88,419.65 L227.75,419.70 L228.60,419.76 L229.44,419.82 L230.27,419.89 L231.09,419.97 L231.91,420.05 L232.73,420.13 L233.54,420.22 L233.67,420.23 M245.50,421.84 L245.70,421.90 L246.50,422.17 L247.30,422.48 L248.11,422.82 L248.92,423.20 L249.72,423.59 L250.52,424.00 L251.30,424.41 L252.06,424.83 L252.79,425.23 L253.50,425.61 L254.17,425.97 L254.77,426.29 M265.26,427.83 L265.50,427.35 L265.76,426.61 L265.99,425.78 L266.20,424.89 L266.40,423.96 L266.60,423.00 L266.74,422.30 L266.87,421.56 L266.98,420.78 L267.09,419.97 L267.19,419.12 L267.28,418.25 L267.33,417.78 M268.37,406.01 L268.40,405.70 L268.48,404.82 L268.56,403.95 L268.64,403.07 L268.71,402.19 L268.79,401.30 L268.86,400.41 L268.94,399.51 L269.01,398.62 L269.08,397.72 L269.16,396.81 L269.23,395.91 L269.24,395.75 M270.09,383.96 L270.13,383.42 L270.19,382.52 L270.25,381.61 L270.31,380.71 L270.38,379.81 L270.44,378.90 L270.50,378.00 L270.56,377.08 L270.63,376.17 L270.69,375.25 L270.75,374.33 L270.80,373.69 M271.60,361.90 L271.63,361.42 L271.70,360.50 L271.77,359.57 L271.83,358.62 L271.90,357.67 L271.97,356.70 L272.04,355.72 L272.11,354.74 L272.18,353.76 L272.25,352.78 L272.32,351.81 L272.33,351.62 M273.26,339.84 L273.30,339.36 L273.37,338.52 L273.44,337.72 L273.52,336.96 L273.61,336.26 L273.70,335.60 L273.80,335.00 L273.96,334.15 L274.14,333.34 L274.32,332.74 L274.50,332.50 L274.68,332.74 L274.86,333.34 L275.04,334.15 L275.20,335.00 L275.23,335.18 M276.31,346.95 L276.32,347.01 L276.38,347.88 L276.44,348.78 L276.51,349.68 L276.57,350.61 L276.64,351.54 L276.70,352.48 L276.77,353.43 L276.83,354.38 L276.89,355.33 L276.96,356.28 L277.02,357.22 L277.02,357.23 M277.76,369.02 L277.81,369.91 L277.86,370.81 L277.92,371.72 L277.97,372.62 L278.03,373.52 L278.08,374.42 L278.13,375.32 L278.19,376.22 L278.24,377.11 L278.30,378.00 L278.36,378.91 L278.38,379.30 M279.13,391.10 L279.16,391.50 L279.22,392.38 L279.28,393.26 L279.34,394.13 L279.40,395.00 L279.47,395.91 L279.53,396.81 L279.60,397.72 L279.67,398.62 L279.73,399.51 L279.80,400.41 L279.87,401.30 L279.88,401.37 M280.87,413.15 L280.91,413.63 L280.98,414.54 L281.06,415.44 L281.13,416.34 L281.21,417.23 L281.30,418.11 L281.38,418.97 L281.47,419.82 L281.57,420.65 L281.67,421.46 L281.78,422.24 L281.90,423.00 L281.96,423.38 M286.90,432.87 L287.22,432.75 L287.89,432.39 L288.59,431.93 L289.30,431.45 L290.00,431.00 L290.64,430.58 L291.29,430.10 L291.94,429.58 L292.61,429.05 L293.28,428.52 L293.95,428.02 L294.63,427.57 L295.30,427.20 L295.43,427.14 M307.40,425.35 L307.49,425.35 L308.22,425.40 L308.96,425.47 L309.70,425.56 L310.45,425.68 L311.22,425.82 L312.00,426.00 L312.76,426.20 L313.53,426.42 L314.31,426.66 L315.11,426.94 L315.91,427.23 L316.72,427.55 L317.35,427.80 M327.50,433.26 L327.89,433.52 L328.62,434.01 L329.33,434.51 L330.00,435.00 L330.69,435.53 L331.35,436.07 L331.98,436.61 L332.59,437.16 L333.18,437.71 L333.76,438.26 L334.33,438.82 L334.88,439.38 L335.37,439.87 M343.20,448.35 L343.21,448.36 L343.75,448.95 L344.28,449.56 L344.79,450.18 L345.26,450.83 L345.70,451.50 L346.11,452.23 L346.49,452.97 L346.83,453.74 L347.15,454.53 L347.44,455.33 L347.73,456.15 L348.02,456.99 L348.12,457.28 M351.65,469.04 L351.73,469.31 L351.97,470.13 L352.20,470.96 L352.44,471.79 L352.68,472.63 L352.91,473.46 L353.15,474.30 L353.38,475.14 L353.61,475.98 L353.84,476.81 L354.06,477.65 L354.28,478.48 L354.41,478.96 M357.40,490.88 L357.50,491.21 L357.75,492.07 L358.01,492.90 L358.27,493.71 L358.53,494.47 L358.79,495.19 L359.05,495.83 L359.30,496.40 L359.63,497.10 L359.97,497.75 L360.29,498.22 L360.60,498.40 L360.88,498.21 L361.14,497.75 L361.38,497.12 L361.52,496.66 M362.49,484.43 L362.49,484.37 L362.53,483.54 L362.58,482.71 L362.61,481.86 L362.65,481.01 L362.69,480.15 L362.72,479.29 L362.76,478.41 L362.79,477.52 L362.83,476.63 L362.86,475.72 L362.89,474.81 L362.92,474.14 M363.37,461.86 L363.38,461.32 L363.42,460.39 L363.45,459.46 L363.48,458.52 L363.51,457.59 L363.54,456.65 L363.57,455.71 L363.61,454.78 L363.64,453.85 L363.67,452.92 L363.70,452.00 L363.71,451.57 M364.13,439.29 L364.13,439.24 L364.16,438.32 L364.19,437.41 L364.22,436.49 L364.25,435.57 L364.28,434.66 L364.31,433.74 L364.34,432.83 L364.37,431.91 L364.40,431.00 L364.43,430.09 L364.46,429.18 L364.46,428.99 M364.81,416.71 L364.81,416.43 L364.84,415.51 L364.87,414.60 L364.89,413.68 L364.92,412.76 L364.95,411.84 L364.97,410.92 L365.00,410.00 L365.03,409.11 L365.05,408.23 L365.08,407.38 L365.11,406.54 L365.11,406.42 M365.52,394.14 L365.54,393.62 L365.57,392.58 L365.60,391.51 L365.63,390.39 L365.67,389.22 L365.70,388.00 L365.72,387.36 L365.74,386.71 L365.75,386.05 L365.77,385.37 L365.79,384.68 L365.81,383.97 L365.81,383.84 M366.12,371.56 L366.14,371.09 L366.16,370.20 L366.18,369.30 L366.20,368.39 L366.23,367.46 L366.25,366.53 L366.27,365.60 L366.29,364.65 L366.32,363.70 L366.34,362.73 L366.36,361.76 L366.37,361.26 M366.66,348.98 L366.67,348.58 L366.70,347.53 L366.72,346.47 L366.75,345.41 L366.77,344.35 L366.80,343.28 L366.82,342.21 L366.85,341.13 L366.87,340.06 L366.90,338.98 L366.90,338.68 M367.18,326.40 L367.20,325.88 L367.22,324.78 L367.25,323.68 L367.27,322.59 L367.29,321.49 L367.32,320.40 L367.34,319.30 L367.37,318.21 L367.39,317.12 L367.42,316.10 M367.69,303.81 L367.71,303.18 L367.73,302.13 L367.75,301.09 L367.78,300.05 L367.80,299.02 L367.82,297.99 L367.84,296.97 L367.87,295.96 L367.89,294.95 L367.91,293.95 L367.92,293.52 M368.19,281.23 L368.20,280.91 L368.22,279.88 L368.24,278.84 L368.26,277.80 L368.29,276.76 L368.31,275.71 L368.33,274.66 L368.35,273.61 L368.37,272.55 L368.40,271.49 L368.41,270.93 M368.66,258.65 L368.68,257.57 L368.70,256.50 L368.73,255.42 L368.75,254.35 L368.77,253.27 L368.79,252.20 L368.81,251.12 L368.83,250.05 L368.86,248.98 L368.87,248.35 M369.11,236.27 L369.13,235.23 L369.15,234.20 L369.17,233.17 L369.20,232.14 L369.22,231.11 L369.24,230.09 L369.26,229.08 L369.28,228.07 L369.30,227.06 L369.32,226.06 L369.32,225.97 M369.57,213.89 L369.58,213.61 L369.60,212.70 L369.62,211.80 L369.64,210.91 L369.66,210.02 L369.67,209.14 L369.69,208.28 L369.71,207.42 L369.73,206.57 L369.75,205.72 L369.77,204.89 L369.79,204.07 L369.80,203.60 M370.08,191.52 L370.11,190.42 L370.14,189.35 L370.16,188.30 L370.19,187.28 L370.21,186.29 L370.23,185.31 L370.25,184.36 L370.28,183.42 L370.30,182.50 L370.32,181.60 L370.33,181.22 M370.72,168.91 L370.73,168.77 L370.76,167.89 L370.80,167.00 L370.84,166.04 L370.88,165.07 L370.93,164.11 L370.97,163.14 L371.01,162.17 L371.06,161.20 L371.10,160.23 L371.15,159.27 L371.18,158.62 M371.92,146.32 L371.99,145.47 L372.06,144.63 L372.13,143.81 L372.20,143.00 L372.29,142.01 L372.38,141.01 L372.47,140.02 L372.56,139.04 L372.65,138.07 L372.75,137.11 L372.84,136.17 L372.86,136.06 M374.92,126.07 L375.25,125.31 L375.58,124.79 L375.90,124.60 L376.18,124.76 L376.47,125.20 L376.75,125.85 L377.04,126.67 L377.31,127.59 L377.56,128.55 L377.80,129.50 L377.95,130.17 L378.09,130.88 L378.23,131.64 L378.35,132.44 L378.37,132.57 M379.44,143.98 L379.52,144.99 L379.60,146.00 L379.67,146.87 L379.73,147.76 L379.79,148.66 L379.85,149.57 L379.91,150.49 L379.97,151.41 L380.02,152.35 L380.07,153.30 L380.12,154.25 L380.12,154.25 M380.66,166.62 L380.67,166.98 L380.71,167.95 L380.76,168.93 L380.80,169.90 L380.84,170.81 L380.88,171.70 L380.92,172.57 L380.96,173.42 L381.00,174.27 L381.03,175.10 L381.07,175.93 L381.11,176.76 L381.11,176.91 M381.61,189.28 L381.64,190.35 L381.68,191.45 L381.72,192.59 L381.76,193.77 L381.80,195.00 L381.82,195.65 L381.84,196.31 L381.86,196.99 L381.89,197.68 L381.91,198.38 L381.93,199.09 L381.94,199.58 M382.28,211.42 L382.30,211.98 L382.32,212.87 L382.34,213.77 L382.37,214.67 L382.39,215.59 L382.42,216.51 L382.44,217.44 L382.47,218.38 L382.49,219.32 L382.51,220.28 L382.54,221.24 L382.55,221.72 M382.85,233.57 L382.87,234.28 L382.89,235.32 L382.92,236.37 L382.95,237.42 L382.97,238.47 L383.00,239.53 L383.02,240.59 L383.05,241.65 L383.07,242.72 L383.10,243.79 L383.10,243.86 M383.39,255.71 L383.42,256.81 L383.44,257.90 L383.47,258.99 L383.50,260.09 L383.52,261.18 L383.55,262.27 L383.58,263.37 L383.60,264.46 L383.63,265.55 L383.64,266.01 M383.93,277.75 L383.95,278.54 L383.98,279.61 L384.00,280.67 L384.03,281.73 L384.06,282.79 L384.08,283.84 L384.11,284.89 L384.13,285.93 L384.16,286.97 L384.19,288.01 L384.19,288.05 M384.49,299.79 L384.50,300.00 L384.53,301.00 L384.55,302.01 L384.58,303.02 L384.61,304.04 L384.64,305.07 L384.66,306.10 L384.69,307.13 L384.72,308.17 L384.75,309.21 L384.77,310.09 M385.09,321.83 L385.10,322.02 L385.13,323.10 L385.16,324.19 L385.19,325.27 L385.22,326.36 L385.24,327.45 L385.27,328.54 L385.30,329.63 L385.33,330.73 L385.36,331.82 L385.37,332.12 M385.70,343.86 L385.73,344.89 L385.76,345.97 L385.79,347.05 L385.82,348.12 L385.85,349.20 L385.88,350.26 L385.91,351.33 L385.93,352.39 L385.96,353.45 L385.98,354.16 M386.31,365.90 L386.34,366.82 L386.37,367.81 L386.39,368.79 L386.42,369.77 L386.45,370.74 L386.48,371.70 L386.50,372.66 L386.53,373.60 L386.56,374.54 L386.58,375.48 L386.60,376.20 M386.94,387.94 L386.95,388.40 L386.97,389.18 L387.00,389.95 L387.02,390.71 L387.04,391.46 L387.06,392.19 L387.08,392.92 L387.10,393.63 L387.12,394.33 L387.14,395.02 L387.16,395.69 L387.18,396.35 L387.20,397.00 L387.24,398.21 L387.24,398.23 M387.59,409.97 L387.61,410.78 L387.64,411.60 L387.66,412.42 L387.69,413.23 L387.71,414.05 L387.74,414.86 L387.77,415.69 L387.79,416.52 L387.82,417.36 L387.84,418.22 L387.87,419.10 L387.90,420.00 L387.91,420.27 M388.26,432.01 L388.29,432.89 L388.32,433.81 L388.35,434.72 L388.38,435.64 L388.41,436.55 L388.44,437.46 L388.47,438.37 L388.50,439.28 L388.53,440.19 L388.57,441.09 L388.60,442.00 L388.61,442.30 M389.09,454.04 L389.09,454.05 L389.13,454.97 L389.17,455.88 L389.21,456.79 L389.25,457.69 L389.29,458.59 L389.33,459.49 L389.38,460.37 L389.42,461.26 L389.46,462.13 L389.50,463.00 L389.54,463.94 L389.56,464.33 M390.11,476.06 L390.15,476.72 L390.21,477.57 L390.27,478.39 L390.33,479.20 L390.40,480.00 L390.49,480.98 L390.57,481.94 L390.66,482.89 L390.76,483.83 L390.85,484.74 L390.95,485.64 L391.03,486.32 M394.85,494.91 L395.09,494.52 L395.34,493.90 L395.55,493.16 L395.74,492.32 L395.92,491.42 L396.10,490.46 L396.29,489.48 L396.50,488.50 L396.67,487.75 L396.84,486.94 L397.02,486.09 L397.20,485.21 L397.25,484.93 M399.65,473.44 L399.74,473.07 L399.98,472.17 L400.23,471.30 L400.47,470.46 L400.72,469.63 L400.97,468.81 L401.23,467.99 L401.50,467.17 L401.79,466.33 L402.09,465.48 L402.40,464.60 L402.70,463.79 L402.76,463.62 M407.30,452.80 L407.71,452.02 L408.12,451.26 L408.53,450.54 L408.94,449.83 L409.36,449.14 L409.78,448.45 L410.22,447.78 L410.68,447.10 L411.16,446.41 L411.67,445.71 L412.20,445.00 L412.69,444.35 L412.85,444.14 M420.70,435.44 L421.00,435.20 L421.76,434.65 L422.52,434.15 L423.30,433.69 L424.08,433.26 L424.86,432.87 L425.65,432.51 L426.44,432.18 L427.23,431.87 L428.02,431.58 L428.80,431.30 L429.60,431.04 L429.90,430.95 M443.00,430.01 L443.56,430.14 L444.38,430.36 L445.22,430.61 L446.06,430.89 L446.91,431.20 L447.76,431.55 L448.60,431.93 L449.43,432.35 L450.23,432.81 L451.00,433.30 L451.68,433.79 L452.27,434.28 M459.60,442.50 L460.23,443.21 L460.84,443.91 L461.42,444.59 L461.97,445.24 L462.51,445.87 L463.02,446.45 L463.52,447.00 L464.00,447.50 L464.51,448.05 L465.01,448.61 L465.48,449.09 L465.91,449.42 L466.30,449.50 L466.70,449.23 L466.72,449.19 M468.48,437.64 L468.53,436.94 L468.60,436.00 L468.67,435.19 L468.73,434.36 L468.80,433.52 L468.87,432.66 L468.94,431.80 L469.00,430.92 L469.07,430.04 L469.14,429.15 L469.20,428.25 L469.27,427.37 M470.12,415.61 L470.17,414.82 L470.23,413.96 L470.30,413.10 L470.36,412.23 L470.42,411.35 L470.48,410.47 L470.54,409.58 L470.60,408.68 L470.66,407.77 L470.72,406.85 L470.78,405.91 L470.81,405.34 M471.40,393.57 L471.41,393.29 L471.45,392.37 L471.49,391.45 L471.53,390.51 L471.56,389.57 L471.60,388.63 L471.64,387.67 L471.67,386.72 L471.71,385.75 L471.75,384.79 L471.78,383.82 L471.80,383.27 M472.22,371.50 L472.23,371.10 L472.26,370.19 L472.29,369.27 L472.32,368.35 L472.35,367.43 L472.38,366.49 L472.41,365.56 L472.44,364.62 L472.46,363.67 L472.49,362.72 L472.52,361.77 L472.54,361.20 M472.86,349.42 L472.87,349.21 L472.89,348.24 L472.92,347.28 L472.95,346.31 L472.97,345.35 L473.00,344.39 L473.03,343.43 L473.06,342.48 L473.09,341.53 L473.12,340.58 L473.15,339.64 L473.16,339.12 M473.59,327.34 L473.59,327.24 L473.63,326.28 L473.67,325.32 L473.70,324.36 L473.74,323.40 L473.78,322.44 L473.82,321.49 L473.86,320.54 L473.90,319.59 L473.94,318.65 L473.98,317.70 L474.01,317.05 M474.50,305.28 L474.53,304.79 L474.56,303.89 L474.60,303.00 L474.64,302.02 L474.68,301.04 L474.72,300.05 L474.76,299.07 L474.80,298.08 L474.84,297.09 L474.88,296.10 L474.91,295.11 L474.92,294.98 M475.39,283.21 L475.41,282.81 L475.45,281.93 L475.49,281.07 L475.53,280.22 L475.57,279.39 L475.62,278.58 L475.66,277.78 L475.70,277.00 L475.76,275.99 L475.81,275.00 L475.86,274.03 L475.92,273.08 L475.92,272.92 M476.92,261.18 L476.94,261.06 L477.06,260.11 L477.19,259.28 L477.32,258.61 L477.46,258.17 L477.60,258.00 L477.79,258.23 L478.00,258.83 L478.21,259.68 L478.41,260.61 L478.60,261.50 L478.75,262.20 L478.88,262.93 L479.02,263.70 L479.14,264.50 L479.19,264.79 M480.29,276.52 L480.33,277.16 L480.39,278.09 L480.44,279.04 L480.50,280.00 L480.55,280.80 L480.59,281.62 L480.64,282.46 L480.68,283.31 L480.72,284.18 L480.77,285.06 L480.81,285.95 L480.84,286.81 M481.34,298.58 L481.36,299.07 L481.40,300.00 L481.44,300.90 L481.48,301.79 L481.52,302.69 L481.56,303.58 L481.60,304.48 L481.64,305.38 L481.68,306.28 L481.73,307.19 L481.77,308.09 L481.80,308.87 M482.34,320.65 L482.36,321.05 L482.40,322.00 L482.44,322.89 L482.48,323.78 L482.52,324.67 L482.57,325.56 L482.61,326.45 L482.65,327.35 L482.70,328.24 L482.74,329.14 L482.79,330.04 L482.83,330.94 M483.38,342.71 L483.40,343.05 L483.44,344.03 L483.48,345.01 L483.52,346.00 L483.56,346.99 L483.60,348.00 L483.63,348.87 L483.66,349.75 L483.70,350.65 L483.73,351.55 L483.76,352.47 L483.78,353.00 M484.14,364.78 L484.14,364.99 L484.17,365.97 L484.20,366.96 L484.22,367.95 L484.25,368.94 L484.28,369.93 L484.31,370.91 L484.33,371.89 L484.36,372.87 L484.39,373.85 L484.41,374.82 L484.42,375.08 M484.75,386.86 L484.76,387.07 L484.79,388.10 L484.82,389.13 L484.84,390.16 L484.87,391.19 L484.90,392.22 L484.92,393.24 L484.95,394.26 L484.98,395.28 L485.00,396.28 L485.02,397.16 M485.38,408.94 L485.40,409.30 L485.43,410.12 L485.46,410.92 L485.50,411.70 L485.55,412.73 L485.60,413.71 L485.65,414.66 L485.71,415.58 L485.76,416.47 L485.82,417.34 L485.88,418.19 L485.94,419.02 L485.95,419.22 M486.80,430.98 L486.86,431.75 L486.94,432.58 L487.02,433.40 L487.11,434.21 L487.20,435.00 L487.31,435.90 L487.42,436.82 L487.52,437.73 L487.64,438.64 L487.76,439.53 L487.89,440.39 L488.04,441.20 M494.79,441.82 L494.80,441.80 L495.25,441.21 L495.73,440.57 L496.25,439.88 L496.79,439.16 L497.35,438.40 L497.92,437.64 L498.49,436.87 L499.07,436.11 L499.63,435.37 L500.18,434.67 L500.70,434.00 L501.00,433.61 M509.50,425.63 L510.24,425.24 L511.01,424.86 L511.80,424.50 L512.55,424.19 L513.30,423.91 L514.05,423.67 L514.81,423.44 L515.59,423.23 L516.40,423.03 L517.24,422.83 L518.11,422.63 L519.03,422.42 L519.23,422.38 M531.70,419.73 L532.29,419.62 L533.26,419.45 L534.23,419.29 L535.19,419.13 L536.16,418.98 L537.11,418.85 L538.06,418.72 L539.00,418.60 L539.90,418.50 L540.81,418.40 L541.74,418.32 L541.90,418.30 M553.80,417.69 L554.14,417.68 L555.04,417.65 L555.92,417.63 L556.79,417.60 L557.63,417.58 L558.45,417.55 L559.24,417.53 L560.00,417.50 L560.98,417.47 L561.94,417.46 L562.89,417.45 L563.81,417.45 L564.10,417.46 M574.57,414.53 L574.70,414.21 L575.00,413.50 L575.27,412.85 L575.53,412.12 L575.78,411.34 L576.03,410.53 L576.27,409.73 L576.51,408.93 L576.76,408.18 L577.00,407.50 L577.30,406.70 L577.59,405.92 L577.88,405.18 L578.04,404.84 M582.79,411.47 L582.97,412.11 L583.21,412.88 L583.45,413.62 L583.71,414.34 L584.00,415.00 L584.34,415.76 L584.69,416.53 L585.07,417.23 L585.50,417.81 L586.00,418.20 L586.51,418.35 L587.07,418.35 L587.67,418.25 L588.32,418.11 L588.68,418.05 M600.30,416.73 L600.90,416.71 L601.77,416.69 L602.66,416.68 L603.57,416.67 L604.50,416.66 L605.45,416.65 L606.42,416.64 L607.41,416.64 L608.41,416.64 L609.42,416.63 L610.45,416.63 L610.60,416.63 M622.70,416.58 L623.44,416.57 L624.36,416.57 L625.30,416.56 L626.26,416.55 L627.24,416.55 L628.24,416.54 L629.25,416.54 L630.28,416.53 L631.32,416.53 L632.37,416.52 L633.00,416.52 M645.10,416.49 L645.42,416.49 L646.51,416.49 L647.59,416.48 L648.66,416.48 L649.72,416.48 L650.77,416.48 L651.81,416.48 L652.84,416.48 L653.85,416.48 L654.84,416.48 L655.40,416.48 M667.00,416.50 L668.10,416.51 L669.13,416.53 L670.10,416.56 L671.01,416.59 L671.86,416.62 L672.65,416.65 L673.40,416.67 L674.11,416.68 L674.77,416.67 L675.40,416.65 L676.00,416.60 L676.84,416.53 L677.29,416.47 M684.43,411.20 L684.62,411.57 L684.94,412.22 L685.26,412.88 L685.60,413.50 L685.95,414.11 L686.30,414.74 L686.68,415.34 L687.07,415.88 L687.50,416.30 L687.96,416.59 L688.46,416.80 L688.97,416.93 L689.50,417.00 L690.06,416.98 L690.62,416.87 L691.25,416.72 L691.63,416.66 M703.20,416.28 L703.57,416.27 L704.37,416.26 L705.19,416.25 L706.02,416.24 L706.87,416.23 L707.73,416.23 L708.60,416.22 L709.49,416.21 L710.39,416.21 L711.30,416.20 L712.22,416.20 L713.15,416.19 L713.50,416.19 M725.60,416.10 L726.05,416.10 L726.96,416.09 L727.88,416.08 L728.81,416.07 L729.75,416.07 L730.69,416.06 L731.64,416.05 L732.60,416.04 L733.56,416.03 L734.52,416.03 L735.49,416.02 L735.90,416.01 M748.10,415.91 L748.11,415.91 L749.06,415.91 L750.00,415.90 L750.94,415.89 L751.87,415.89 L752.81,415.88 L753.74,415.87 L754.68,415.87 L755.61,415.86 L756.54,415.85 L757.48,415.85 L758.40,415.84 M770.30,415.76 L770.55,415.76 L771.49,415.75 L772.43,415.75 L773.37,415.74 L774.32,415.74 L775.26,415.73 L776.20,415.72 L777.15,415.72 L778.10,415.71 L779.05,415.71 L780.00,415.70 L780.60,415.70 M792.80,415.62 L793.10,415.62 L794.05,415.61 L794.99,415.61 L795.94,415.60 L796.88,415.59 L797.83,415.59 L798.77,415.58 L799.72,415.58 L800.66,415.57 L801.61,415.56 L802.56,415.56 L803.10,415.56" stroke="#23409f"/>
<path d="M474.7,195.60000000000002 A43.8,145.7 0 1 1 474.7,487.0 A43.8,145.7 0 1 1 474.7,195.60000000000002" stroke="#b7409b" stroke-width="3" stroke-dasharray="10.5 9.47" stroke-dashoffset="10.0"/>
<path d="M132.60,417.80 L133.45,417.82 L134.28,417.83 L135.11,417.84 L135.94,417.84 L136.79,417.86 L137.65,417.89 L138.56,417.93 L139.50,418.00 L139.79,418.03 M150.50,419.53 L151.00,419.60 L151.92,419.72 L152.80,419.82 L153.65,419.91 L154.47,419.99 L155.27,420.10 L156.06,420.22 L156.83,420.39 L157.60,420.60 L157.61,420.60 M166.25,425.36 L166.64,425.45 L167.29,425.52 L167.92,425.47 L168.50,425.30 L168.96,425.02 L169.39,424.64 L169.79,424.16 L170.16,423.61 L170.50,423.00 L170.76,422.41 L171.00,421.75 L171.13,421.30 M172.89,411.55 L172.95,411.12 L173.06,410.26 L173.17,409.40 L173.27,408.54 L173.38,407.69 L173.49,406.84 L173.60,406.00 L173.71,405.17 L173.82,404.40 M175.06,394.56 L175.09,394.34 L175.17,393.51 L175.26,392.67 L175.35,391.83 L175.43,390.99 L175.52,390.14 L175.60,389.29 L175.68,388.44 L175.76,387.58 L175.78,387.40 M176.62,377.51 L176.64,377.23 L176.71,376.36 L176.78,375.51 L176.85,374.66 L176.93,373.82 L177.00,373.00 L177.08,372.12 L177.16,371.23 L177.24,370.34 M178.34,360.48 L178.43,359.94 L178.56,359.33 L178.70,358.80 L178.84,358.39 L178.99,358.00 L179.15,357.71 L179.30,357.60 L179.45,357.71 L179.61,358.00 L179.76,358.39 L179.90,358.80 L180.04,359.33 L180.17,359.95 L180.28,360.64 L180.38,361.39 L180.40,361.49 M181.58,371.34 L181.60,371.50 L181.69,372.30 L181.77,373.11 L181.86,373.94 L181.94,374.77 L182.03,375.62 L182.11,376.47 L182.20,377.32 L182.28,378.19 L182.31,378.50 M183.27,388.38 L183.30,388.69 L183.38,389.58 L183.47,390.47 L183.55,391.36 L183.64,392.24 L183.72,393.12 L183.80,394.00 L183.88,394.86 L183.94,395.55 M184.84,405.42 L184.89,405.86 L184.97,406.71 L185.06,407.57 L185.14,408.42 L185.23,409.28 L185.31,410.12 L185.40,410.96 L185.50,411.79 L185.59,412.59 M187.16,422.37 L187.20,422.50 L187.49,423.26 L187.81,423.99 L188.15,424.63 L188.55,425.15 L189.00,425.50 L189.54,425.66 L190.15,425.63 L190.80,425.50 L191.50,425.30 L192.09,425.09 L192.37,424.96 M201.40,420.93 L201.71,420.83 L202.53,420.59 L203.36,420.37 L204.19,420.17 L205.00,420.00 L205.78,419.86 L206.56,419.74 L207.33,419.65 L208.09,419.58 L208.45,419.55 M218.90,419.09 L219.72,419.07 L220.61,419.05 L221.51,419.04 L222.42,419.03 L223.32,419.02 L224.22,419.01 L225.11,419.00 L226.00,419.00 L226.10,419.00 M236.30,419.07 L236.51,419.08 L237.38,419.10 L238.26,419.13 L239.13,419.16 L240.00,419.20 L240.92,419.24 L241.85,419.30 L242.79,419.36 L243.49,419.41 M254.30,420.24 L254.43,420.25 L255.31,420.28 L256.15,420.29 L256.96,420.30 L257.74,420.33 L258.50,420.38 L259.25,420.47 L260.00,420.60 L260.77,420.80 L261.42,421.01 M270.90,423.43 L271.28,423.19 L271.74,422.82 L272.19,422.37 L272.61,421.86 L273.00,421.30 L273.35,420.70 L273.67,420.03 L273.97,419.30 L274.25,418.52 L274.51,417.71 L274.59,417.45 M276.44,407.42 L276.50,407.00 L276.63,406.18 L276.75,405.36 L276.88,404.55 L277.00,403.74 L277.11,402.94 L277.23,402.14 L277.35,401.35 L277.46,400.56 L277.50,400.30 M279.17,390.23 L279.35,389.42 L279.55,388.64 L279.77,387.92 L280.00,387.30 L280.24,386.75 L280.49,386.24 L280.75,385.85 L281.00,385.70 L281.26,385.85 L281.51,386.23 L281.77,386.74 L282.00,387.30 L282.09,387.57 M283.86,397.62 L283.87,397.74 L283.98,398.59 L284.08,399.44 L284.19,400.29 L284.29,401.15 L284.40,402.00 L284.51,402.85 L284.61,403.72 L284.71,404.60 L284.73,404.77 M286.06,414.89 L286.11,415.23 L286.24,416.14 L286.39,417.03 L286.55,417.90 L286.72,418.74 L286.92,419.54 L287.14,420.30 L287.40,421.00 L287.76,421.83 L287.77,421.85 M296.20,424.70 L296.20,424.70 L296.96,424.64 L297.78,424.60 L298.64,424.58 L299.54,424.56 L300.44,424.56 L301.33,424.56 L302.19,424.58 L303.00,424.60 L303.40,424.62 M313.30,425.70 L313.30,425.70 L314.03,425.85 L314.76,426.02 L315.51,426.20 L316.27,426.40 L317.04,426.61 L317.82,426.84 L318.60,427.08 L319.40,427.33 L320.20,427.60 L320.24,427.61 M329.00,431.20 L329.78,431.64 L330.55,432.09 L331.31,432.56 L332.06,433.05 L332.79,433.55 L333.51,434.07 L334.23,434.60 L334.93,435.15 L334.98,435.20 M342.20,442.58 L342.70,443.20 L343.26,443.92 L343.79,444.63 L344.29,445.32 L344.77,446.02 L345.23,446.73 L345.69,447.45 L346.14,448.21 L346.30,448.48 M350.67,457.67 L350.93,458.30 L351.24,459.10 L351.55,459.89 L351.85,460.68 L352.14,461.47 L352.42,462.26 L352.69,463.06 L352.97,463.86 L353.15,464.43 M355.93,474.22 L356.00,474.50 L356.23,475.35 L356.45,476.21 L356.68,477.06 L356.90,477.92 L357.12,478.78 L357.34,479.65 L357.56,480.51 L357.73,481.19 M359.91,491.13 L359.99,491.51 L360.16,492.34 L360.33,493.17 L360.50,494.00 L360.68,494.88 L360.86,495.78 L361.04,496.68 L361.22,497.58 L361.34,498.18 M363.77,508.06 L363.93,508.54 L364.20,509.20 L364.55,510.00 L364.91,510.79 L365.27,511.38 L365.60,511.60 L365.89,511.35 L366.15,510.73 L366.39,509.90 L366.60,509.00 L366.66,508.69 M367.33,498.54 L367.35,498.19 L367.39,497.37 L367.44,496.53 L367.49,495.68 L367.53,494.82 L367.57,493.94 L367.62,493.06 L367.66,492.18 L367.70,491.35 M368.18,481.18 L368.21,480.63 L368.25,479.74 L368.29,478.86 L368.34,477.98 L368.38,477.09 L368.42,476.20 L368.46,475.32 L368.50,474.43 L368.52,473.99 M368.96,463.82 L368.99,462.94 L369.03,462.06 L369.07,461.18 L369.10,460.29 L369.13,459.41 L369.17,458.53 L369.20,457.65 L369.23,456.76 L369.24,456.63 M369.60,446.45 L369.60,446.33 L369.63,445.45 L369.66,444.57 L369.69,443.68 L369.72,442.78 L369.74,441.86 L369.77,440.94 L369.80,440.00 L369.82,439.26 M370.09,429.08 L370.10,428.48 L370.13,427.56 L370.15,426.63 L370.17,425.69 L370.19,424.75 L370.21,423.81 L370.24,422.86 L370.26,421.91 L370.26,421.88 M370.47,411.71 L370.47,411.64 L370.49,410.81 L370.50,409.96 L370.52,409.11 L370.54,408.25 L370.55,407.37 L370.57,406.47 L370.59,405.56 L370.60,404.63 L370.61,404.51 M370.81,394.33 L370.81,394.33 L370.83,393.65 L370.84,392.95 L370.86,392.24 L370.88,391.52 L370.89,390.79 L370.91,390.05 L370.93,389.30 L370.94,388.53 L370.96,387.75 L370.97,387.13 M371.20,376.96 L371.21,376.75 L371.23,375.84 L371.25,374.92 L371.27,373.99 L371.29,373.06 L371.32,372.12 L371.34,371.17 L371.36,370.21 L371.37,369.76 M371.61,359.58 L371.61,359.28 L371.64,358.25 L371.66,357.22 L371.69,356.19 L371.71,355.15 L371.73,354.10 L371.76,353.05 L371.77,352.38 M372.01,342.21 L372.03,341.33 L372.06,340.25 L372.08,339.17 L372.11,338.09 L372.14,337.00 L372.16,335.92 L372.18,335.01 M372.42,324.83 L372.44,324.01 L372.47,322.93 L372.49,321.85 L372.52,320.78 L372.54,319.71 L372.57,318.64 L372.59,317.64 M372.83,307.46 L372.84,307.08 L372.86,306.05 L372.88,305.03 L372.91,304.01 L372.93,303.00 L372.95,302.00 L372.98,300.99 L372.99,300.26 M373.23,290.09 L373.23,289.94 L373.25,288.90 L373.28,287.85 L373.30,286.80 L373.32,285.74 L373.35,284.68 L373.37,283.61 L373.39,282.89 M373.61,272.71 L373.64,271.61 L373.66,270.50 L373.69,269.39 L373.71,268.28 L373.74,267.17 L373.76,266.05 L373.77,265.51 M374.00,255.17 L374.01,254.93 L374.03,253.82 L374.05,252.71 L374.08,251.61 L374.10,250.51 L374.13,249.41 L374.15,248.32 L374.16,247.98 M374.39,237.64 L374.39,237.57 L374.41,236.52 L374.44,235.48 L374.46,234.44 L374.48,233.41 L374.51,232.39 L374.53,231.37 L374.55,230.44 M374.79,220.10 L374.80,219.77 L374.82,218.86 L374.84,217.96 L374.86,217.07 L374.88,216.19 L374.91,215.32 L374.93,214.47 L374.95,213.62 L374.96,212.90 M375.23,202.57 L375.23,202.44 L375.25,201.81 L375.27,201.19 L375.28,200.59 L375.30,200.00 L375.34,198.73 L375.37,197.54 L375.41,196.42 L375.44,195.37 M375.81,185.04 L375.84,184.19 L375.87,183.31 L375.90,182.40 L375.93,181.46 L375.96,180.52 L375.99,179.58 L376.02,178.63 L376.05,177.84 M376.38,167.69 L376.39,167.30 L376.43,166.37 L376.46,165.43 L376.50,164.50 L376.54,163.59 L376.57,162.69 L376.61,161.78 L376.65,160.88 L376.67,160.49 M377.14,150.35 L377.16,150.12 L377.20,149.21 L377.25,148.31 L377.30,147.40 L377.35,146.47 L377.40,145.53 L377.45,144.59 L377.51,143.64 L377.54,143.16 M378.16,133.02 L378.21,132.27 L378.27,131.34 L378.34,130.42 L378.40,129.50 L378.47,128.58 L378.53,127.66 L378.59,126.74 L378.66,125.84 M379.46,115.71 L379.53,115.11 L379.61,114.29 L379.70,113.50 L379.81,112.57 L379.92,111.64 L380.04,110.72 L380.16,109.81 L380.28,108.91 L380.33,108.56 M382.98,98.88 L383.20,98.80 L383.44,98.94 L383.67,99.27 L383.89,99.71 L384.10,100.20 L384.30,100.75 L384.47,101.38 L384.64,102.08 L384.79,102.86 L384.93,103.69 L385.07,104.57 L385.18,105.34 M386.05,115.83 L386.11,116.75 L386.17,117.71 L386.23,118.66 L386.30,119.60 L386.36,120.45 L386.42,121.31 L386.48,122.19 L386.54,123.02 M387.24,133.53 L387.27,134.00 L387.33,134.91 L387.39,135.81 L387.44,136.71 L387.50,137.60 L387.56,138.51 L387.61,139.41 L387.67,140.31 L387.69,140.72 M388.31,151.24 L388.35,151.89 L388.40,152.79 L388.45,153.69 L388.50,154.60 L388.55,155.49 L388.60,156.38 L388.64,157.27 L388.69,158.16 L388.70,158.42 M389.22,168.95 L389.27,169.86 L389.31,170.77 L389.36,171.68 L389.40,172.60 L389.44,173.49 L389.49,174.35 L389.53,175.20 L389.57,176.02 L389.58,176.14 M390.09,186.69 L390.12,187.31 L390.16,188.40 L390.21,189.54 L390.25,190.74 L390.30,192.00 L390.32,192.59 L390.34,193.20 L390.36,193.82 L390.37,193.88 M390.69,204.44 L390.70,204.78 L390.72,205.61 L390.75,206.45 L390.77,207.30 L390.79,208.16 L390.82,209.03 L390.84,209.92 L390.86,210.81 L390.89,211.64 M391.16,222.20 L391.16,222.22 L391.18,223.22 L391.21,224.23 L391.23,225.25 L391.26,226.27 L391.29,227.30 L391.31,228.34 L391.34,229.38 L391.34,229.39 M391.59,239.95 L391.59,240.06 L391.62,241.15 L391.64,242.24 L391.67,243.34 L391.70,244.44 L391.72,245.54 L391.75,246.65 L391.76,247.15 M392.00,257.71 L392.01,257.77 L392.03,258.89 L392.06,260.00 L392.08,261.12 L392.11,262.23 L392.14,263.35 L392.16,264.46 L392.17,264.91 M392.42,275.47 L392.44,276.55 L392.47,277.63 L392.49,278.71 L392.52,279.78 L392.54,280.85 L392.57,281.91 L392.58,282.66 M392.83,293.20 L392.84,293.24 L392.86,294.23 L392.88,295.21 L392.91,296.18 L392.93,297.15 L392.95,298.11 L392.98,299.06 L393.00,300.00 L393.01,300.39 M393.27,310.92 L393.29,311.48 L393.31,312.54 L393.34,313.61 L393.36,314.68 L393.39,315.74 L393.42,316.82 L393.45,317.89 L393.45,318.12 M393.71,328.65 L393.71,328.66 L393.74,329.74 L393.77,330.82 L393.80,331.89 L393.82,332.97 L393.85,334.05 L393.88,335.12 L393.89,335.85 M394.16,346.38 L394.17,346.81 L394.19,347.85 L394.22,348.90 L394.24,349.94 L394.27,350.97 L394.30,352.00 L394.32,353.03 L394.33,353.58 M394.59,364.11 L394.61,364.96 L394.64,365.91 L394.66,366.86 L394.68,367.80 L394.71,368.74 L394.73,369.67 L394.75,370.59 L394.77,371.31 M395.02,381.84 L395.03,382.60 L395.05,383.39 L395.07,384.16 L395.09,384.93 L395.10,385.69 L395.12,386.44 L395.14,387.17 L395.15,387.90 L395.17,388.61 L395.18,389.04 M395.40,399.57 L395.40,399.61 L395.42,400.55 L395.43,401.48 L395.45,402.38 L395.47,403.27 L395.48,404.15 L395.50,405.02 L395.51,405.87 L395.53,406.72 L395.53,406.77 M395.72,417.31 L395.74,417.91 L395.75,418.86 L395.77,419.81 L395.79,420.74 L395.81,421.68 L395.82,422.61 L395.84,423.53 L395.86,424.46 L395.86,424.50 M396.06,435.04 L396.06,435.24 L396.08,436.12 L396.10,437.00 L396.12,437.93 L396.14,438.86 L396.16,439.78 L396.18,440.70 L396.20,441.61 L396.21,442.24 M396.44,452.77 L396.46,453.23 L396.48,454.11 L396.50,455.00 L396.52,455.91 L396.55,456.81 L396.57,457.71 L396.60,458.60 L396.62,459.50 L396.63,459.97 M396.95,470.50 L396.97,471.09 L397.00,472.00 L397.03,472.89 L397.05,473.80 L397.08,474.71 L397.11,475.63 L397.13,476.55 L397.16,477.48 L397.17,477.69 M397.52,488.22 L397.52,488.35 L397.56,489.18 L397.60,490.00 L397.65,490.95 L397.69,491.89 L397.73,492.83 L397.77,493.77 L397.81,494.69 L397.85,495.41 M399.17,505.84 L399.32,506.25 L399.60,506.80 L399.89,507.20 L400.23,507.53 L400.57,507.75 L400.90,507.80 L401.32,507.55 L401.73,507.01 L402.13,506.32 L402.50,505.60 L402.79,504.96 L403.06,504.26 L403.12,504.05 M405.70,493.84 L405.71,493.81 L405.90,493.00 L406.10,492.21 L406.29,491.42 L406.49,490.64 L406.70,489.85 L406.90,489.07 L407.10,488.28 L407.30,487.49 L407.46,486.86 M409.88,476.61 L409.90,476.50 L410.09,475.69 L410.27,474.90 L410.45,474.11 L410.62,473.33 L410.80,472.55 L410.98,471.77 L411.17,470.97 L411.37,470.17 L411.51,469.60 M414.47,459.49 L414.56,459.23 L414.83,458.44 L415.10,457.70 L415.41,456.88 L415.71,456.09 L416.02,455.34 L416.32,454.61 L416.63,453.89 L416.96,453.18 L417.15,452.81 M422.90,444.00 L423.10,443.74 L423.60,443.10 L424.14,442.41 L424.67,441.76 L425.20,441.13 L425.72,440.52 L426.24,439.93 L426.78,439.35 L427.33,438.78 L427.57,438.53 M436.60,431.62 L436.90,431.46 L437.59,431.13 L438.30,430.80 L438.99,430.50 L439.70,430.20 L440.42,429.92 L441.15,429.65 L441.89,429.39 L442.65,429.15 L443.28,428.96 M453.80,427.29 L454.54,427.25 L455.37,427.20 L456.20,427.17 L457.02,427.15 L457.83,427.14 L458.62,427.15 L459.40,427.18 L460.16,427.23 L460.90,427.30 L460.99,427.31 M470.90,430.69 L471.41,430.91 L472.06,431.22 L472.69,431.44 L473.30,431.50 L473.89,431.39 L474.47,431.14 L475.02,430.78 L475.50,430.30 L475.85,429.78 L476.14,429.13 L476.38,428.43 M478.24,418.66 L478.27,418.38 L478.38,417.45 L478.50,416.50 L478.59,415.70 L478.68,414.89 L478.77,414.06 L478.86,413.20 L478.94,412.33 L479.02,411.50 M479.83,401.58 L479.87,401.16 L479.93,400.30 L480.00,399.43 L480.06,398.55 L480.12,397.65 L480.18,396.75 L480.25,395.84 L480.31,394.92 L480.34,394.39 M481.01,384.46 L481.06,383.79 L481.13,382.89 L481.20,382.00 L481.27,381.07 L481.35,380.14 L481.42,379.21 L481.50,378.27 L481.58,377.34 L481.58,377.28 M482.46,367.36 L482.47,367.33 L482.55,366.47 L482.63,365.63 L482.72,364.81 L482.80,364.00 L482.90,363.01 L483.00,362.03 L483.10,361.05 L483.19,360.20 M484.63,350.35 L484.74,349.87 L484.93,349.16 L485.11,348.68 L485.30,348.50 L485.49,348.68 L485.68,349.16 L485.87,349.86 L486.05,350.71 L486.23,351.62 L486.40,352.50 L486.52,353.18 L486.57,353.49 M487.55,363.40 L487.60,364.00 L487.67,364.81 L487.74,365.63 L487.81,366.47 L487.88,367.33 L487.95,368.19 L488.01,369.07 L488.08,369.96 L488.13,370.57 M488.80,380.51 L488.84,381.07 L488.90,382.00 L488.96,382.89 L489.01,383.79 L489.06,384.70 L489.12,385.62 L489.17,386.54 L489.22,387.47 L489.23,387.70 M489.75,397.64 L489.75,397.68 L489.80,398.57 L489.85,399.45 L489.90,400.31 L489.95,401.16 L490.00,402.00 L490.06,402.95 L490.12,403.89 L490.18,404.83 M490.89,414.76 L490.93,415.23 L491.00,416.00 L491.09,416.95 L491.18,417.88 L491.27,418.78 L491.37,419.67 L491.47,420.54 L491.56,421.38 L491.63,421.92 M494.60,430.98 L495.05,430.91 L495.67,430.55 L496.32,430.07 L497.00,429.60 L497.57,429.24 L498.17,428.85 L498.78,428.43 L499.40,428.01 L500.05,427.60 L500.68,427.21 M510.40,422.64 L510.50,422.60 L511.21,422.36 L511.94,422.13 L512.68,421.91 L513.42,421.71 L514.17,421.51 L514.92,421.33 L515.66,421.16 L516.40,421.00 L517.19,420.85 L517.36,420.82 M527.50,419.71 L528.22,419.65 L529.09,419.58 L530.00,419.50 L530.77,419.43 L531.57,419.36 L532.41,419.27 L533.27,419.19 L534.16,419.10 L534.67,419.05 M545.00,418.20 L545.91,418.17 L546.80,418.14 L547.68,418.13 L548.55,418.12 L549.40,418.11 L550.24,418.12 L551.06,418.13 L551.87,418.15 L552.20,418.16 M562.40,419.28 L562.86,419.37 L563.73,419.56 L564.60,419.76 L565.47,419.97 L566.32,420.19 L567.17,420.40 L567.99,420.61 L568.80,420.80 L569.40,420.94 M579.52,419.71 L579.56,419.60 L579.80,418.87 L580.01,418.08 L580.21,417.24 L580.41,416.38 L580.60,415.50 L580.76,414.74 L580.91,413.94 L581.04,413.11 L581.11,412.70 M582.65,401.22 L582.68,401.06 L582.78,400.24 L582.89,399.43 L582.99,398.62 L583.10,397.81 L583.20,397.00 L583.30,396.13 L583.40,395.25 L583.50,394.37 L583.53,394.08 M585.43,382.68 L585.55,382.41 L585.82,381.87 L586.11,381.46 L586.40,381.30 L586.70,381.45 L587.02,381.85 L587.33,382.40 L587.60,383.00 L587.80,383.55 L587.96,384.19 L588.11,384.90 L588.24,385.67 L588.32,386.24 M589.71,397.74 L589.80,398.50 L589.91,399.33 L590.01,400.15 L590.12,400.96 L590.23,401.76 L590.34,402.56 L590.45,403.35 L590.56,404.14 L590.67,404.87 M592.39,416.32 L592.52,417.01 L592.66,417.70 L592.82,418.37 L593.00,419.00 L593.22,419.69 L593.45,420.36 L593.70,420.99 L593.98,421.55 L594.30,422.00 L594.63,422.33 L595.00,422.60 L595.21,422.71 M606.20,419.53 L606.26,419.51 L607.00,419.30 L607.70,419.09 L608.40,418.88 L609.11,418.66 L609.83,418.45 L610.55,418.24 L611.29,418.04 L612.04,417.86 L612.80,417.70 L613.14,417.64 M623.90,416.74 L624.65,416.72 L625.52,416.70 L626.41,416.69 L627.32,416.68 L628.24,416.67 L629.19,416.66 L630.14,416.65 L631.10,416.65 M641.70,416.59 L641.75,416.58 L642.65,416.58 L643.56,416.57 L644.48,416.57 L645.42,416.56 L646.36,416.55 L647.31,416.55 L648.26,416.55 L648.90,416.54 M659.10,416.51 L659.83,416.51 L660.77,416.51 L661.70,416.51 L662.62,416.51 L663.52,416.51 L664.41,416.50 L665.29,416.50 L666.15,416.50 L666.30,416.50 M675.30,416.38 L676.19,416.36 L677.18,416.35 L678.14,416.33 L679.07,416.32 L679.97,416.32 L680.83,416.32 L681.65,416.33 L682.43,416.35 L682.50,416.35 M691.70,414.94 L692.03,415.19 L692.40,415.52 L692.80,415.80 L693.28,416.04 L693.78,416.27 L694.34,416.46 L695.00,416.60 L695.58,416.66 L696.22,416.67 L696.91,416.65 L697.66,416.60 L698.44,416.54 M709.40,416.21 L710.19,416.20 L711.12,416.20 L712.07,416.19 L713.03,416.19 L714.00,416.18 L714.98,416.18 L715.97,416.18 L716.60,416.17 M726.90,416.09 L726.96,416.09 L727.88,416.08 L728.81,416.07 L729.75,416.07 L730.69,416.06 L731.64,416.05 L732.60,416.04 L733.56,416.03 L734.10,416.03 M744.40,415.94 L745.23,415.94 L746.20,415.93 L747.16,415.92 L748.11,415.91 L749.06,415.91 L750.00,415.90 L750.94,415.89 L751.60,415.89 M762.00,415.82 L762.14,415.81 L763.07,415.81 L764.01,415.80 L764.94,415.80 L765.87,415.79 L766.81,415.78 L767.74,415.78 L768.68,415.77 L769.20,415.77 M779.40,415.70 L780.00,415.70 L780.93,415.69 L781.86,415.69 L782.79,415.68 L783.72,415.68 L784.65,415.67 L785.59,415.66 L786.52,415.66 L786.60,415.66 M797.00,415.59 L797.83,415.59 L798.77,415.58 L799.72,415.58 L800.66,415.57 L801.61,415.56 L802.56,415.56 L803.50,415.55 L804.20,415.55" stroke="#231815"/>
</g>
<g stroke="#404040" fill="none">
<rect x="132.65" y="17.4" width="679.35" height="501.9" stroke-width="3"/>
<path d="M302.49,519.3 v-8.3 M302.49,17.4 v8.3 M472.33,519.3 v-8.3 M472.33,17.4 v8.3 M642.16,519.3 v-8.3 M642.16,17.4 v8.3 M132.65,435.65 h8.3 M812.0,435.65 h-8.3 M132.65,352.00 h8.3 M812.0,352.00 h-8.3 M132.65,268.35 h8.3 M812.0,268.35 h-8.3 M132.65,184.70 h8.3 M812.0,184.70 h-8.3 M132.65,101.05 h8.3 M812.0,101.05 h-8.3" stroke-width="2.6"/>
</g>
<g fill="none" stroke-width="3.0">
<path d="M525,54.5 H582" stroke="#e60012"/>
<path d="M525.3,96.95 H582" stroke="#23409f" stroke-dasharray="10.3 12.25"/>
<path d="M525,139.35 H582.3" stroke="#231815" stroke-dasharray="7.3 10.3"/>
</g>
<g font-family="'Liberation Serif', 'DejaVu Serif', serif" fill="#000">
<text transform="translate(105.38,530.73) scale(1.1111,1)" font-size="34.29" stroke="#fff" stroke-width="0.206">0</text>
<text transform="translate(56.65,446.91) scale(1.1385,1)" font-size="34.03" stroke="#fff" stroke-width="0.204">0.05</text>
<text transform="translate(56.65,363.26) scale(1.1385,1)" font-size="34.03" stroke="#fff" stroke-width="0.204">0.10</text>
<text transform="translate(56.65,279.61) scale(1.1385,1)" font-size="34.03" stroke="#fff" stroke-width="0.204">0.15</text>
<text transform="translate(56.65,195.96) scale(1.1385,1)" font-size="34.03" stroke="#fff" stroke-width="0.204">0.20</text>
<text transform="translate(56.65,112.31) scale(1.1385,1)" font-size="34.03" stroke="#fff" stroke-width="0.204">0.25</text>
<text transform="translate(56.65,28.66) scale(1.1385,1)" font-size="34.03" stroke="#fff" stroke-width="0.204">0.30</text>
<text transform="translate(103.94,559.07) scale(1.1791,1)" font-size="42.50" stroke="#fff" stroke-width="0.255">−</text>
<text transform="translate(131.89,554.63) scale(1.1572,1)" font-size="33.68" stroke="#fff" stroke-width="0.202">100</text>
<text transform="translate(281.36,559.07) scale(1.2153,1)" font-size="42.50" stroke="#fff" stroke-width="0.255">−</text>
<text transform="translate(310.40,554.63) scale(1.1380,1)" font-size="33.68" stroke="#fff" stroke-width="0.202">50</text>
<text transform="translate(462.93,554.63) scale(1.0885,1)" font-size="33.68" stroke="#fff" stroke-width="0.202">0</text>
<text transform="translate(624.49,554.63) scale(1.1446,1)" font-size="33.68" stroke="#fff" stroke-width="0.202">50</text>
<text transform="translate(778.67,554.63) scale(1.1312,1)" font-size="33.68" stroke="#fff" stroke-width="0.202">100</text>
<text transform="translate(381.63,600.27) scale(1.2405,1)" font-size="36.56" font-style="italic" stroke="#fff" stroke-width="0.512">Δ</text>
<text transform="translate(407.68,604.79) scale(1.1372,1)" font-size="22.34" stroke="#fff" stroke-width="0.134">c</text>
<text transform="translate(421.36,607.55) scale(0.9486,1)" font-size="50.76" stroke="#fff" stroke-width="0.305">/</text>
<text transform="translate(437.27,599.77) scale(1.0505,1)" font-size="34.46" stroke="#fff" stroke-width="0.207">2</text>
<text transform="translate(453.58,600.20) scale(1.2278,1)" font-size="33.56" font-style="italic" stroke="#fff" stroke-width="0.470">π</text>
<text transform="translate(489.83,600.08) scale(0.9883,1)" font-size="37.64" stroke="#fff" stroke-width="0.226">(</text>
<text transform="translate(503.57,600.08) scale(1.0511,1)" font-size="35.81" stroke="#fff" stroke-width="0.215">MHz</text>
<text transform="translate(582.70,600.08) scale(1.0627,1)" font-size="37.64" stroke="#fff" stroke-width="0.226">)</text>
<text transform="translate(589.00,64.40) scale(1.1592,1)" font-size="39.28" font-style="italic" stroke="#fff" stroke-width="0.550">t</text>
<text transform="translate(611.50,67.46) scale(1.5252,1)" font-size="34.58" stroke="#fff" stroke-width="0.208">=</text>
<text transform="translate(649.72,64.20) scale(1.1797,1)" font-size="32.89" font-style="italic" stroke="#fff" stroke-width="0.460">π</text>
<text transform="translate(670.83,71.65) scale(1.0602,1)" font-size="50.30" stroke="#fff" stroke-width="0.302">/</text>
<text transform="translate(688.66,64.15) scale(0.9758,1)" font-size="37.30" stroke="#fff" stroke-width="0.224">(</text>
<text transform="translate(700.83,64.43) scale(1.0088,1)" font-size="33.98" stroke="#fff" stroke-width="0.204">8</text>
<text transform="translate(717.18,64.60) scale(0.9881,1)" font-size="33.41" font-style="italic" stroke="#fff" stroke-width="0.468">ω</text>
<text transform="translate(740.60,69.48) scale(1.0969,1)" font-size="24.96" stroke="#fff" stroke-width="0.150">0</text>
<text transform="translate(754.46,64.15) scale(1.0294,1)" font-size="37.30" stroke="#fff" stroke-width="0.224">)</text>
<text transform="translate(589.00,106.80) scale(1.1592,1)" font-size="39.28" font-style="italic" stroke="#fff" stroke-width="0.550">t</text>
<text transform="translate(611.50,109.86) scale(1.5252,1)" font-size="34.58" stroke="#fff" stroke-width="0.207">=</text>
<text transform="translate(648.87,106.97) scale(1.0412,1)" font-size="34.77" stroke="#fff" stroke-width="0.209">2</text>
<text transform="translate(666.01,106.60) scale(1.1980,1)" font-size="32.89" font-style="italic" stroke="#fff" stroke-width="0.460">π</text>
<text transform="translate(688.35,114.05) scale(1.0013,1)" font-size="50.30" stroke="#fff" stroke-width="0.302">/</text>
<text transform="translate(706.46,106.55) scale(0.9758,1)" font-size="37.30" stroke="#fff" stroke-width="0.224">(</text>
<text transform="translate(718.63,106.83) scale(1.0088,1)" font-size="33.98" stroke="#fff" stroke-width="0.204">8</text>
<text transform="translate(734.98,107.00) scale(0.9881,1)" font-size="33.41" font-style="italic" stroke="#fff" stroke-width="0.468">ω</text>
<text transform="translate(758.40,111.88) scale(1.0969,1)" font-size="24.96" stroke="#fff" stroke-width="0.150">0</text>
<text transform="translate(772.26,106.55) scale(1.0294,1)" font-size="37.30" stroke="#fff" stroke-width="0.224">)</text>
<text transform="translate(589.00,149.20) scale(1.1592,1)" font-size="39.28" font-style="italic" stroke="#fff" stroke-width="0.550">t</text>
<text transform="translate(611.50,152.26) scale(1.5252,1)" font-size="34.58" stroke="#fff" stroke-width="0.208">=</text>
<text transform="translate(648.76,149.03) scale(1.0186,1)" font-size="34.24" stroke="#fff" stroke-width="0.205">3</text>
<text transform="translate(666.01,149.00) scale(1.1980,1)" font-size="32.89" font-style="italic" stroke="#fff" stroke-width="0.460">π</text>
<text transform="translate(688.35,156.45) scale(1.0013,1)" font-size="50.30" stroke="#fff" stroke-width="0.302">/</text>
<text transform="translate(706.46,148.95) scale(0.9758,1)" font-size="37.30" stroke="#fff" stroke-width="0.224">(</text>
<text transform="translate(718.63,149.23) scale(1.0088,1)" font-size="33.98" stroke="#fff" stroke-width="0.204">8</text>
<text transform="translate(734.98,149.40) scale(0.9881,1)" font-size="33.41" font-style="italic" stroke="#fff" stroke-width="0.468">ω</text>
<text transform="translate(758.40,154.28) scale(1.0969,1)" font-size="24.96" stroke="#fff" stroke-width="0.150">0</text>
<text transform="translate(772.26,148.95) scale(1.0294,1)" font-size="37.30" stroke="#fff" stroke-width="0.224">)</text>
<text transform="translate(429.56,183.36) scale(1.3671,1)" font-size="36.48" font-style="italic" stroke="#fff" stroke-width="0.511">n</text>
<text transform="translate(459.94,186.43) scale(1.5027,1)" font-size="35.83" stroke="#fff" stroke-width="0.215">=</text>
<text transform="translate(496.67,182.97) scale(1.0717,1)" font-size="33.54" stroke="#fff" stroke-width="0.201">1</text>
<text transform="translate(29.62,480.50) rotate(-90) scale(1.1030,1)" font-size="36.21" stroke="#fff" stroke-width="0.217">Transmission</text>
<text transform="translate(28.67,248.68) rotate(-90) scale(0.9580,1)" font-size="36.74" stroke="#fff" stroke-width="0.220">(</text>
<text transform="translate(29.44,237.01) rotate(-90) scale(1.2040,1)" font-size="35.57" stroke="#fff" stroke-width="0.213">arb.</text>
<text transform="translate(29.62,157.34) rotate(-90) scale(1.1540,1)" font-size="36.82" stroke="#fff" stroke-width="0.221">units</text>
<text transform="translate(28.67,74.42) rotate(-90) scale(1.0234,1)" font-size="36.74" stroke="#fff" stroke-width="0.220">)</text>
</g>
</svg>
</body></html>
